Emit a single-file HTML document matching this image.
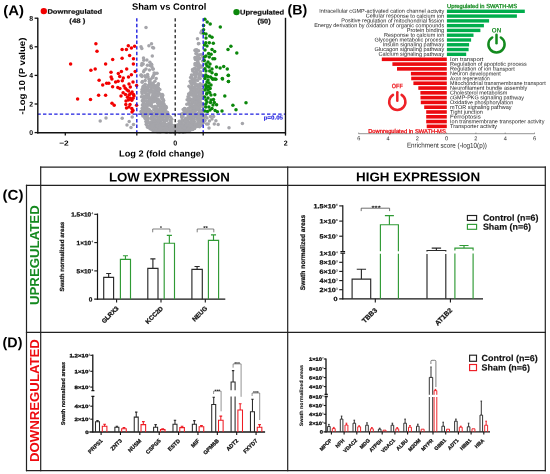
<!DOCTYPE html>
<html><head><meta charset="utf-8"><title>Figure</title>
<style>html,body{margin:0;padding:0;background:#fff;width:550px;height:474px;overflow:hidden}svg{display:block}text{font-family:"Liberation Sans", Arial, sans-serif;text-rendering:geometricPrecision}</style>
</head><body>
<svg width="550" height="474" viewBox="0 0 550 474">
<rect width="550" height="474" fill="#fff"/>
<text x="3.20" y="15.30" font-size="14.20" font-weight="bold" textLength="20.80" lengthAdjust="spacingAndGlyphs" transform="rotate(0.06 3.20 15.30)">(A)</text>
<g fill="#a5a5aa">
<circle cx="151.5" cy="43.8" r="1.75"/>
<circle cx="152.7" cy="47.5" r="1.75"/>
<circle cx="143.8" cy="60.2" r="1.75"/>
<circle cx="142.0" cy="63.6" r="1.75"/>
<circle cx="151.5" cy="64.3" r="1.75"/>
<circle cx="150.1" cy="65.6" r="1.75"/>
<circle cx="141.7" cy="65.2" r="1.75"/>
<circle cx="147.4" cy="65.3" r="1.75"/>
<circle cx="151.9" cy="66.7" r="1.75"/>
<circle cx="152.7" cy="69.0" r="1.75"/>
<circle cx="149.5" cy="70.0" r="1.75"/>
<circle cx="144.3" cy="70.2" r="1.75"/>
<circle cx="143.6" cy="71.7" r="1.75"/>
<circle cx="154.1" cy="73.0" r="1.75"/>
<circle cx="155.1" cy="73.5" r="1.75"/>
<circle cx="153.5" cy="75.6" r="1.75"/>
<circle cx="147.6" cy="74.5" r="1.75"/>
<circle cx="141.2" cy="75.4" r="1.75"/>
<circle cx="141.3" cy="75.3" r="1.75"/>
<circle cx="144.8" cy="75.8" r="1.75"/>
<circle cx="142.0" cy="76.4" r="1.75"/>
<circle cx="147.9" cy="76.4" r="1.75"/>
<circle cx="152.8" cy="77.1" r="1.75"/>
<circle cx="145.8" cy="77.3" r="1.75"/>
<circle cx="152.6" cy="77.5" r="1.75"/>
<circle cx="148.8" cy="78.9" r="1.75"/>
<circle cx="156.2" cy="78.6" r="1.75"/>
<circle cx="150.6" cy="79.2" r="1.75"/>
<circle cx="145.2" cy="80.5" r="1.75"/>
<circle cx="149.4" cy="81.3" r="1.75"/>
<circle cx="154.9" cy="81.2" r="1.75"/>
<circle cx="142.4" cy="81.6" r="1.75"/>
<circle cx="153.2" cy="83.0" r="1.75"/>
<circle cx="149.5" cy="83.0" r="1.75"/>
<circle cx="142.1" cy="82.2" r="1.75"/>
<circle cx="150.2" cy="82.2" r="1.75"/>
<circle cx="145.2" cy="84.2" r="1.75"/>
<circle cx="158.4" cy="83.8" r="1.75"/>
<circle cx="150.5" cy="85.0" r="1.75"/>
<circle cx="151.7" cy="84.4" r="1.75"/>
<circle cx="157.9" cy="85.0" r="1.75"/>
<circle cx="148.2" cy="85.4" r="1.75"/>
<circle cx="150.9" cy="85.0" r="1.75"/>
<circle cx="153.1" cy="84.5" r="1.75"/>
<circle cx="150.5" cy="84.9" r="1.75"/>
<circle cx="157.7" cy="85.5" r="1.75"/>
<circle cx="143.2" cy="86.2" r="1.75"/>
<circle cx="155.9" cy="86.7" r="1.75"/>
<circle cx="149.6" cy="86.0" r="1.75"/>
<circle cx="144.4" cy="86.4" r="1.75"/>
<circle cx="157.9" cy="85.8" r="1.75"/>
<circle cx="155.2" cy="85.7" r="1.75"/>
<circle cx="144.4" cy="85.9" r="1.75"/>
<circle cx="153.5" cy="86.0" r="1.75"/>
<circle cx="143.0" cy="87.8" r="1.75"/>
<circle cx="143.3" cy="87.5" r="1.75"/>
<circle cx="145.7" cy="87.1" r="1.75"/>
<circle cx="151.1" cy="87.4" r="1.75"/>
<circle cx="148.1" cy="87.4" r="1.75"/>
<circle cx="151.0" cy="87.1" r="1.75"/>
<circle cx="144.9" cy="87.7" r="1.75"/>
<circle cx="153.1" cy="87.5" r="1.75"/>
<circle cx="157.7" cy="88.4" r="1.75"/>
<circle cx="155.5" cy="89.1" r="1.75"/>
<circle cx="158.5" cy="88.5" r="1.75"/>
<circle cx="147.6" cy="89.3" r="1.75"/>
<circle cx="145.8" cy="89.3" r="1.75"/>
<circle cx="158.3" cy="88.3" r="1.75"/>
<circle cx="146.2" cy="89.0" r="1.75"/>
<circle cx="146.6" cy="88.3" r="1.75"/>
<circle cx="156.4" cy="89.6" r="1.75"/>
<circle cx="149.2" cy="90.2" r="1.75"/>
<circle cx="142.1" cy="89.6" r="1.75"/>
<circle cx="154.4" cy="90.5" r="1.75"/>
<circle cx="159.8" cy="89.5" r="1.75"/>
<circle cx="151.1" cy="90.3" r="1.75"/>
<circle cx="151.1" cy="90.2" r="1.75"/>
<circle cx="145.2" cy="89.5" r="1.75"/>
<circle cx="151.3" cy="91.3" r="1.75"/>
<circle cx="151.7" cy="90.8" r="1.75"/>
<circle cx="144.2" cy="90.9" r="1.75"/>
<circle cx="157.0" cy="91.8" r="1.75"/>
<circle cx="158.6" cy="90.8" r="1.75"/>
<circle cx="141.8" cy="91.8" r="1.75"/>
<circle cx="149.6" cy="91.6" r="1.75"/>
<circle cx="146.9" cy="91.2" r="1.75"/>
<circle cx="150.6" cy="91.2" r="1.75"/>
<circle cx="154.8" cy="92.9" r="1.75"/>
<circle cx="144.8" cy="92.4" r="1.75"/>
<circle cx="155.5" cy="92.4" r="1.75"/>
<circle cx="145.1" cy="92.1" r="1.75"/>
<circle cx="151.2" cy="91.9" r="1.75"/>
<circle cx="158.5" cy="92.9" r="1.75"/>
<circle cx="154.9" cy="92.9" r="1.75"/>
<circle cx="153.4" cy="92.4" r="1.75"/>
<circle cx="152.9" cy="92.5" r="1.75"/>
<circle cx="147.3" cy="94.2" r="1.75"/>
<circle cx="157.3" cy="94.1" r="1.75"/>
<circle cx="158.8" cy="93.6" r="1.75"/>
<circle cx="160.5" cy="94.2" r="1.75"/>
<circle cx="156.3" cy="94.1" r="1.75"/>
<circle cx="157.8" cy="93.6" r="1.75"/>
<circle cx="156.9" cy="93.2" r="1.75"/>
<circle cx="149.0" cy="93.7" r="1.75"/>
<circle cx="142.2" cy="93.6" r="1.75"/>
<circle cx="146.4" cy="95.5" r="1.75"/>
<circle cx="155.6" cy="94.8" r="1.75"/>
<circle cx="155.5" cy="95.1" r="1.75"/>
<circle cx="152.8" cy="94.9" r="1.75"/>
<circle cx="162.7" cy="95.2" r="1.75"/>
<circle cx="156.4" cy="95.3" r="1.75"/>
<circle cx="162.3" cy="94.4" r="1.75"/>
<circle cx="154.5" cy="95.3" r="1.75"/>
<circle cx="146.9" cy="94.9" r="1.75"/>
<circle cx="148.7" cy="95.8" r="1.75"/>
<circle cx="146.0" cy="96.7" r="1.75"/>
<circle cx="152.5" cy="96.3" r="1.75"/>
<circle cx="161.7" cy="96.3" r="1.75"/>
<circle cx="162.3" cy="96.4" r="1.75"/>
<circle cx="158.2" cy="95.7" r="1.75"/>
<circle cx="153.6" cy="96.6" r="1.75"/>
<circle cx="141.5" cy="96.8" r="1.75"/>
<circle cx="144.0" cy="96.2" r="1.75"/>
<circle cx="144.2" cy="96.2" r="1.75"/>
<circle cx="161.5" cy="97.4" r="1.75"/>
<circle cx="152.6" cy="97.6" r="1.75"/>
<circle cx="149.1" cy="97.2" r="1.75"/>
<circle cx="155.3" cy="97.6" r="1.75"/>
<circle cx="147.4" cy="97.8" r="1.75"/>
<circle cx="147.7" cy="96.9" r="1.75"/>
<circle cx="146.6" cy="97.0" r="1.75"/>
<circle cx="144.7" cy="97.8" r="1.75"/>
<circle cx="149.7" cy="98.0" r="1.75"/>
<circle cx="162.9" cy="99.3" r="1.75"/>
<circle cx="143.2" cy="99.2" r="1.75"/>
<circle cx="150.8" cy="98.7" r="1.75"/>
<circle cx="162.5" cy="98.4" r="1.75"/>
<circle cx="152.9" cy="99.3" r="1.75"/>
<circle cx="157.1" cy="98.7" r="1.75"/>
<circle cx="162.6" cy="99.1" r="1.75"/>
<circle cx="154.6" cy="98.3" r="1.75"/>
<circle cx="155.0" cy="98.7" r="1.75"/>
<circle cx="146.0" cy="98.2" r="1.75"/>
<circle cx="151.2" cy="100.2" r="1.75"/>
<circle cx="151.5" cy="99.7" r="1.75"/>
<circle cx="154.3" cy="99.9" r="1.75"/>
<circle cx="158.8" cy="100.0" r="1.75"/>
<circle cx="163.7" cy="100.5" r="1.75"/>
<circle cx="157.8" cy="99.7" r="1.75"/>
<circle cx="143.8" cy="100.5" r="1.75"/>
<circle cx="158.9" cy="100.1" r="1.75"/>
<circle cx="149.3" cy="99.7" r="1.75"/>
<circle cx="156.7" cy="100.1" r="1.75"/>
<circle cx="159.3" cy="100.9" r="1.75"/>
<circle cx="147.3" cy="101.8" r="1.75"/>
<circle cx="163.2" cy="101.7" r="1.75"/>
<circle cx="142.3" cy="100.7" r="1.75"/>
<circle cx="147.8" cy="101.2" r="1.75"/>
<circle cx="156.2" cy="100.8" r="1.75"/>
<circle cx="154.3" cy="100.7" r="1.75"/>
<circle cx="143.4" cy="101.5" r="1.75"/>
<circle cx="154.5" cy="101.4" r="1.75"/>
<circle cx="150.3" cy="101.2" r="1.75"/>
<circle cx="146.4" cy="101.1" r="1.75"/>
<circle cx="143.5" cy="102.0" r="1.75"/>
<circle cx="161.4" cy="102.6" r="1.75"/>
<circle cx="160.4" cy="102.2" r="1.75"/>
<circle cx="152.0" cy="102.2" r="1.75"/>
<circle cx="161.4" cy="102.3" r="1.75"/>
<circle cx="157.6" cy="103.1" r="1.75"/>
<circle cx="149.6" cy="102.6" r="1.75"/>
<circle cx="159.9" cy="103.0" r="1.75"/>
<circle cx="152.1" cy="102.3" r="1.75"/>
<circle cx="144.0" cy="103.0" r="1.75"/>
<circle cx="143.6" cy="102.0" r="1.75"/>
<circle cx="158.1" cy="103.5" r="1.75"/>
<circle cx="160.3" cy="103.2" r="1.75"/>
<circle cx="146.6" cy="103.9" r="1.75"/>
<circle cx="143.4" cy="103.5" r="1.75"/>
<circle cx="159.1" cy="104.0" r="1.75"/>
<circle cx="148.3" cy="103.3" r="1.75"/>
<circle cx="150.1" cy="104.0" r="1.75"/>
<circle cx="150.3" cy="103.3" r="1.75"/>
<circle cx="158.7" cy="103.8" r="1.75"/>
<circle cx="163.8" cy="104.3" r="1.75"/>
<circle cx="163.7" cy="103.7" r="1.75"/>
<circle cx="149.5" cy="104.9" r="1.75"/>
<circle cx="164.3" cy="105.5" r="1.75"/>
<circle cx="147.8" cy="104.8" r="1.75"/>
<circle cx="150.6" cy="104.8" r="1.75"/>
<circle cx="151.3" cy="104.9" r="1.75"/>
<circle cx="146.5" cy="105.1" r="1.75"/>
<circle cx="161.0" cy="105.0" r="1.75"/>
<circle cx="161.9" cy="105.1" r="1.75"/>
<circle cx="146.1" cy="105.3" r="1.75"/>
<circle cx="163.0" cy="104.7" r="1.75"/>
<circle cx="142.4" cy="105.0" r="1.75"/>
<circle cx="166.0" cy="106.4" r="1.75"/>
<circle cx="161.9" cy="105.7" r="1.75"/>
<circle cx="155.3" cy="106.6" r="1.75"/>
<circle cx="143.6" cy="105.7" r="1.75"/>
<circle cx="160.2" cy="106.7" r="1.75"/>
<circle cx="143.6" cy="106.4" r="1.75"/>
<circle cx="145.1" cy="106.5" r="1.75"/>
<circle cx="157.9" cy="105.9" r="1.75"/>
<circle cx="147.0" cy="106.6" r="1.75"/>
<circle cx="154.7" cy="106.6" r="1.75"/>
<circle cx="151.5" cy="106.1" r="1.75"/>
<circle cx="154.7" cy="107.5" r="1.75"/>
<circle cx="160.4" cy="107.7" r="1.75"/>
<circle cx="165.3" cy="107.4" r="1.75"/>
<circle cx="163.1" cy="107.7" r="1.75"/>
<circle cx="163.8" cy="107.9" r="1.75"/>
<circle cx="163.3" cy="108.0" r="1.75"/>
<circle cx="166.4" cy="107.7" r="1.75"/>
<circle cx="155.4" cy="107.8" r="1.75"/>
<circle cx="162.5" cy="107.4" r="1.75"/>
<circle cx="152.8" cy="107.1" r="1.75"/>
<circle cx="160.9" cy="108.1" r="1.75"/>
<circle cx="146.5" cy="108.7" r="1.75"/>
<circle cx="148.7" cy="109.3" r="1.75"/>
<circle cx="142.8" cy="108.5" r="1.75"/>
<circle cx="144.2" cy="108.9" r="1.75"/>
<circle cx="161.2" cy="108.4" r="1.75"/>
<circle cx="142.9" cy="108.7" r="1.75"/>
<circle cx="156.2" cy="109.2" r="1.75"/>
<circle cx="142.2" cy="108.3" r="1.75"/>
<circle cx="146.0" cy="108.4" r="1.75"/>
<circle cx="147.3" cy="109.0" r="1.75"/>
<circle cx="156.5" cy="108.4" r="1.75"/>
<circle cx="145.6" cy="110.3" r="1.75"/>
<circle cx="149.3" cy="110.1" r="1.75"/>
<circle cx="162.7" cy="110.0" r="1.75"/>
<circle cx="147.9" cy="110.5" r="1.75"/>
<circle cx="165.3" cy="109.8" r="1.75"/>
<circle cx="155.5" cy="110.5" r="1.75"/>
<circle cx="153.8" cy="109.7" r="1.75"/>
<circle cx="142.3" cy="110.5" r="1.75"/>
<circle cx="162.3" cy="109.9" r="1.75"/>
<circle cx="155.0" cy="110.0" r="1.75"/>
<circle cx="148.3" cy="110.6" r="1.75"/>
<circle cx="158.5" cy="109.7" r="1.75"/>
<circle cx="151.1" cy="111.6" r="1.75"/>
<circle cx="160.5" cy="111.4" r="1.75"/>
<circle cx="145.2" cy="110.8" r="1.75"/>
<circle cx="149.8" cy="111.0" r="1.75"/>
<circle cx="164.8" cy="111.3" r="1.75"/>
<circle cx="158.4" cy="111.8" r="1.75"/>
<circle cx="148.2" cy="111.3" r="1.75"/>
<circle cx="145.1" cy="111.6" r="1.75"/>
<circle cx="141.0" cy="111.6" r="1.75"/>
<circle cx="164.2" cy="111.6" r="1.75"/>
<circle cx="143.2" cy="111.0" r="1.75"/>
<circle cx="160.6" cy="110.8" r="1.75"/>
<circle cx="167.6" cy="112.6" r="1.75"/>
<circle cx="165.0" cy="112.3" r="1.75"/>
<circle cx="163.1" cy="112.4" r="1.75"/>
<circle cx="166.6" cy="112.0" r="1.75"/>
<circle cx="164.1" cy="112.2" r="1.75"/>
<circle cx="156.5" cy="112.5" r="1.75"/>
<circle cx="146.1" cy="112.9" r="1.75"/>
<circle cx="150.3" cy="112.3" r="1.75"/>
<circle cx="143.9" cy="112.3" r="1.75"/>
<circle cx="154.5" cy="112.8" r="1.75"/>
<circle cx="151.6" cy="112.7" r="1.75"/>
<circle cx="144.7" cy="112.4" r="1.75"/>
<circle cx="165.4" cy="113.9" r="1.75"/>
<circle cx="142.4" cy="113.6" r="1.75"/>
<circle cx="162.1" cy="113.4" r="1.75"/>
<circle cx="158.0" cy="113.7" r="1.75"/>
<circle cx="142.4" cy="114.3" r="1.75"/>
<circle cx="164.6" cy="113.4" r="1.75"/>
<circle cx="159.4" cy="113.5" r="1.75"/>
<circle cx="152.7" cy="113.8" r="1.75"/>
<circle cx="150.5" cy="113.6" r="1.75"/>
<circle cx="153.1" cy="114.0" r="1.75"/>
<circle cx="149.3" cy="113.4" r="1.75"/>
<circle cx="162.7" cy="113.5" r="1.75"/>
<circle cx="162.5" cy="114.8" r="1.75"/>
<circle cx="165.2" cy="114.5" r="1.75"/>
<circle cx="146.8" cy="114.5" r="1.75"/>
<circle cx="161.2" cy="115.2" r="1.75"/>
<circle cx="147.9" cy="114.9" r="1.75"/>
<circle cx="165.5" cy="115.1" r="1.75"/>
<circle cx="145.5" cy="114.7" r="1.75"/>
<circle cx="147.3" cy="114.5" r="1.75"/>
<circle cx="154.0" cy="114.5" r="1.75"/>
<circle cx="167.7" cy="114.9" r="1.75"/>
<circle cx="156.8" cy="115.2" r="1.75"/>
<circle cx="163.6" cy="115.4" r="1.75"/>
<circle cx="153.7" cy="115.7" r="1.75"/>
<circle cx="153.4" cy="116.5" r="1.75"/>
<circle cx="169.4" cy="116.6" r="1.75"/>
<circle cx="160.5" cy="116.4" r="1.75"/>
<circle cx="142.9" cy="116.0" r="1.75"/>
<circle cx="151.8" cy="116.4" r="1.75"/>
<circle cx="145.3" cy="116.1" r="1.75"/>
<circle cx="156.4" cy="116.6" r="1.75"/>
<circle cx="165.1" cy="116.4" r="1.75"/>
<circle cx="146.8" cy="116.6" r="1.75"/>
<circle cx="167.2" cy="116.3" r="1.75"/>
<circle cx="152.1" cy="116.3" r="1.75"/>
<circle cx="170.7" cy="117.5" r="1.75"/>
<circle cx="162.9" cy="117.9" r="1.75"/>
<circle cx="148.2" cy="118.0" r="1.75"/>
<circle cx="160.4" cy="117.1" r="1.75"/>
<circle cx="144.9" cy="117.2" r="1.75"/>
<circle cx="159.0" cy="117.7" r="1.75"/>
<circle cx="151.9" cy="118.0" r="1.75"/>
<circle cx="152.8" cy="117.5" r="1.75"/>
<circle cx="146.1" cy="118.1" r="1.75"/>
<circle cx="146.4" cy="118.0" r="1.75"/>
<circle cx="158.0" cy="117.6" r="1.75"/>
<circle cx="158.5" cy="117.2" r="1.75"/>
<circle cx="167.0" cy="118.9" r="1.75"/>
<circle cx="147.7" cy="119.1" r="1.75"/>
<circle cx="152.3" cy="119.2" r="1.75"/>
<circle cx="150.9" cy="118.8" r="1.75"/>
<circle cx="167.3" cy="118.4" r="1.75"/>
<circle cx="159.5" cy="118.2" r="1.75"/>
<circle cx="145.1" cy="118.4" r="1.75"/>
<circle cx="171.7" cy="119.3" r="1.75"/>
<circle cx="162.6" cy="118.5" r="1.75"/>
<circle cx="162.9" cy="119.0" r="1.75"/>
<circle cx="154.9" cy="118.9" r="1.75"/>
<circle cx="166.6" cy="118.2" r="1.75"/>
<circle cx="147.6" cy="119.9" r="1.75"/>
<circle cx="159.5" cy="119.6" r="1.75"/>
<circle cx="158.1" cy="119.7" r="1.75"/>
<circle cx="159.4" cy="119.8" r="1.75"/>
<circle cx="161.5" cy="119.4" r="1.75"/>
<circle cx="162.3" cy="119.6" r="1.75"/>
<circle cx="170.3" cy="120.1" r="1.75"/>
<circle cx="156.7" cy="119.9" r="1.75"/>
<circle cx="161.0" cy="120.2" r="1.75"/>
<circle cx="164.7" cy="120.3" r="1.75"/>
<circle cx="157.1" cy="120.6" r="1.75"/>
<circle cx="166.9" cy="120.4" r="1.75"/>
<circle cx="160.0" cy="121.7" r="1.75"/>
<circle cx="158.9" cy="121.3" r="1.75"/>
<circle cx="156.4" cy="121.7" r="1.75"/>
<circle cx="153.3" cy="120.7" r="1.75"/>
<circle cx="164.4" cy="121.7" r="1.75"/>
<circle cx="164.6" cy="121.4" r="1.75"/>
<circle cx="165.2" cy="121.0" r="1.75"/>
<circle cx="160.8" cy="120.7" r="1.75"/>
<circle cx="147.9" cy="121.2" r="1.75"/>
<circle cx="158.3" cy="121.1" r="1.75"/>
<circle cx="145.9" cy="121.5" r="1.75"/>
<circle cx="158.9" cy="120.9" r="1.75"/>
<circle cx="151.3" cy="122.0" r="1.75"/>
<circle cx="170.1" cy="123.1" r="1.75"/>
<circle cx="163.2" cy="122.9" r="1.75"/>
<circle cx="156.5" cy="122.9" r="1.75"/>
<circle cx="150.9" cy="122.8" r="1.75"/>
<circle cx="160.5" cy="123.0" r="1.75"/>
<circle cx="147.5" cy="122.9" r="1.75"/>
<circle cx="148.2" cy="122.5" r="1.75"/>
<circle cx="171.2" cy="121.9" r="1.75"/>
<circle cx="151.5" cy="122.3" r="1.75"/>
<circle cx="153.8" cy="122.0" r="1.75"/>
<circle cx="169.6" cy="122.9" r="1.75"/>
<circle cx="161.6" cy="123.2" r="1.75"/>
<circle cx="146.2" cy="124.2" r="1.75"/>
<circle cx="153.9" cy="123.7" r="1.75"/>
<circle cx="171.3" cy="124.3" r="1.75"/>
<circle cx="158.5" cy="123.4" r="1.75"/>
<circle cx="153.5" cy="124.3" r="1.75"/>
<circle cx="170.2" cy="123.4" r="1.75"/>
<circle cx="168.6" cy="123.6" r="1.75"/>
<circle cx="158.4" cy="123.4" r="1.75"/>
<circle cx="169.7" cy="124.3" r="1.75"/>
<circle cx="150.9" cy="123.9" r="1.75"/>
<circle cx="150.7" cy="124.2" r="1.75"/>
<circle cx="165.7" cy="124.8" r="1.75"/>
<circle cx="170.6" cy="125.4" r="1.75"/>
<circle cx="165.4" cy="124.6" r="1.75"/>
<circle cx="164.9" cy="125.5" r="1.75"/>
<circle cx="157.8" cy="124.5" r="1.75"/>
<circle cx="151.5" cy="124.8" r="1.75"/>
<circle cx="165.3" cy="124.6" r="1.75"/>
<circle cx="150.3" cy="124.7" r="1.75"/>
<circle cx="164.0" cy="125.3" r="1.75"/>
<circle cx="155.7" cy="125.2" r="1.75"/>
<circle cx="170.2" cy="125.1" r="1.75"/>
<circle cx="151.7" cy="124.8" r="1.75"/>
<circle cx="154.9" cy="126.4" r="1.75"/>
<circle cx="149.6" cy="126.8" r="1.75"/>
<circle cx="159.5" cy="126.3" r="1.75"/>
<circle cx="162.1" cy="125.7" r="1.75"/>
<circle cx="164.0" cy="126.0" r="1.75"/>
<circle cx="154.2" cy="126.6" r="1.75"/>
<circle cx="149.6" cy="126.0" r="1.75"/>
<circle cx="168.4" cy="125.9" r="1.75"/>
<circle cx="155.0" cy="126.3" r="1.75"/>
<circle cx="152.4" cy="126.7" r="1.75"/>
<circle cx="175.0" cy="125.7" r="1.75"/>
<circle cx="160.1" cy="126.6" r="1.75"/>
<circle cx="161.9" cy="127.1" r="1.75"/>
<circle cx="163.4" cy="127.7" r="1.75"/>
<circle cx="157.9" cy="127.7" r="1.75"/>
<circle cx="169.8" cy="127.5" r="1.75"/>
<circle cx="162.0" cy="127.9" r="1.75"/>
<circle cx="167.0" cy="127.5" r="1.75"/>
<circle cx="174.5" cy="127.1" r="1.75"/>
<circle cx="169.7" cy="127.1" r="1.75"/>
<circle cx="164.9" cy="127.2" r="1.75"/>
<circle cx="160.2" cy="127.8" r="1.75"/>
<circle cx="169.9" cy="127.8" r="1.75"/>
<circle cx="154.5" cy="127.5" r="1.75"/>
<circle cx="162.3" cy="128.2" r="1.75"/>
<circle cx="164.8" cy="129.0" r="1.75"/>
<circle cx="164.2" cy="129.2" r="1.75"/>
<circle cx="154.1" cy="128.3" r="1.75"/>
<circle cx="150.0" cy="128.7" r="1.75"/>
<circle cx="160.7" cy="128.7" r="1.75"/>
<circle cx="156.3" cy="129.1" r="1.75"/>
<circle cx="151.4" cy="129.2" r="1.75"/>
<circle cx="164.1" cy="128.8" r="1.75"/>
<circle cx="169.8" cy="128.4" r="1.75"/>
<circle cx="153.3" cy="128.5" r="1.75"/>
<circle cx="165.7" cy="130.0" r="1.75"/>
<circle cx="157.4" cy="130.1" r="1.75"/>
<circle cx="153.2" cy="130.4" r="1.75"/>
<circle cx="155.2" cy="129.7" r="1.75"/>
<circle cx="154.9" cy="130.2" r="1.75"/>
<circle cx="170.7" cy="130.3" r="1.75"/>
<circle cx="152.6" cy="129.9" r="1.75"/>
<circle cx="159.7" cy="129.7" r="1.75"/>
<circle cx="173.9" cy="129.5" r="1.75"/>
<circle cx="162.6" cy="130.3" r="1.75"/>
<circle cx="164.7" cy="131.5" r="1.75"/>
<circle cx="157.3" cy="130.9" r="1.75"/>
<circle cx="172.3" cy="130.8" r="1.75"/>
<circle cx="163.6" cy="131.0" r="1.75"/>
<circle cx="164.1" cy="130.7" r="1.75"/>
<circle cx="157.2" cy="131.8" r="1.75"/>
<circle cx="170.1" cy="131.5" r="1.75"/>
<circle cx="160.7" cy="131.0" r="1.75"/>
<circle cx="201.8" cy="32.7" r="1.75"/>
<circle cx="198.8" cy="43.5" r="1.75"/>
<circle cx="195.3" cy="49.9" r="1.75"/>
<circle cx="196.9" cy="51.2" r="1.75"/>
<circle cx="198.5" cy="50.8" r="1.75"/>
<circle cx="197.1" cy="54.2" r="1.75"/>
<circle cx="195.9" cy="53.5" r="1.75"/>
<circle cx="198.5" cy="55.4" r="1.75"/>
<circle cx="201.6" cy="54.8" r="1.75"/>
<circle cx="202.8" cy="56.7" r="1.75"/>
<circle cx="197.1" cy="57.3" r="1.75"/>
<circle cx="198.1" cy="57.2" r="1.75"/>
<circle cx="195.0" cy="57.4" r="1.75"/>
<circle cx="197.9" cy="57.1" r="1.75"/>
<circle cx="195.2" cy="58.8" r="1.75"/>
<circle cx="199.5" cy="58.8" r="1.75"/>
<circle cx="199.5" cy="58.2" r="1.75"/>
<circle cx="197.7" cy="60.1" r="1.75"/>
<circle cx="197.4" cy="59.8" r="1.75"/>
<circle cx="195.5" cy="59.4" r="1.75"/>
<circle cx="197.8" cy="61.4" r="1.75"/>
<circle cx="202.7" cy="61.1" r="1.75"/>
<circle cx="197.5" cy="62.2" r="1.75"/>
<circle cx="198.4" cy="63.5" r="1.75"/>
<circle cx="197.1" cy="64.3" r="1.75"/>
<circle cx="195.1" cy="63.4" r="1.75"/>
<circle cx="195.0" cy="65.0" r="1.75"/>
<circle cx="199.2" cy="65.1" r="1.75"/>
<circle cx="198.9" cy="65.1" r="1.75"/>
<circle cx="196.7" cy="66.1" r="1.75"/>
<circle cx="202.2" cy="66.0" r="1.75"/>
<circle cx="200.5" cy="66.5" r="1.75"/>
<circle cx="201.5" cy="67.1" r="1.75"/>
<circle cx="199.4" cy="67.5" r="1.75"/>
<circle cx="198.8" cy="67.3" r="1.75"/>
<circle cx="197.9" cy="68.4" r="1.75"/>
<circle cx="194.9" cy="68.5" r="1.75"/>
<circle cx="194.2" cy="68.8" r="1.75"/>
<circle cx="192.6" cy="69.5" r="1.75"/>
<circle cx="198.6" cy="69.5" r="1.75"/>
<circle cx="196.2" cy="70.3" r="1.75"/>
<circle cx="200.4" cy="71.7" r="1.75"/>
<circle cx="192.7" cy="71.0" r="1.75"/>
<circle cx="197.0" cy="71.6" r="1.75"/>
<circle cx="194.6" cy="72.8" r="1.75"/>
<circle cx="195.4" cy="72.3" r="1.75"/>
<circle cx="200.1" cy="72.9" r="1.75"/>
<circle cx="196.6" cy="74.0" r="1.75"/>
<circle cx="198.6" cy="74.1" r="1.75"/>
<circle cx="200.4" cy="73.3" r="1.75"/>
<circle cx="193.9" cy="74.6" r="1.75"/>
<circle cx="191.5" cy="75.1" r="1.75"/>
<circle cx="202.0" cy="75.6" r="1.75"/>
<circle cx="195.7" cy="76.4" r="1.75"/>
<circle cx="195.4" cy="76.8" r="1.75"/>
<circle cx="202.5" cy="75.7" r="1.75"/>
<circle cx="199.2" cy="75.8" r="1.75"/>
<circle cx="198.7" cy="78.1" r="1.75"/>
<circle cx="191.7" cy="77.3" r="1.75"/>
<circle cx="190.6" cy="77.6" r="1.75"/>
<circle cx="194.2" cy="79.1" r="1.75"/>
<circle cx="200.2" cy="78.5" r="1.75"/>
<circle cx="195.2" cy="78.9" r="1.75"/>
<circle cx="195.7" cy="80.2" r="1.75"/>
<circle cx="197.7" cy="80.4" r="1.75"/>
<circle cx="192.7" cy="79.6" r="1.75"/>
<circle cx="192.2" cy="80.5" r="1.75"/>
<circle cx="191.4" cy="81.0" r="1.75"/>
<circle cx="190.2" cy="81.3" r="1.75"/>
<circle cx="191.7" cy="81.4" r="1.75"/>
<circle cx="193.3" cy="80.9" r="1.75"/>
<circle cx="193.2" cy="82.0" r="1.75"/>
<circle cx="190.9" cy="83.0" r="1.75"/>
<circle cx="193.8" cy="82.0" r="1.75"/>
<circle cx="192.3" cy="82.5" r="1.75"/>
<circle cx="200.2" cy="83.7" r="1.75"/>
<circle cx="195.3" cy="84.1" r="1.75"/>
<circle cx="195.1" cy="83.2" r="1.75"/>
<circle cx="197.8" cy="84.7" r="1.75"/>
<circle cx="201.8" cy="85.4" r="1.75"/>
<circle cx="202.5" cy="84.9" r="1.75"/>
<circle cx="200.5" cy="85.3" r="1.75"/>
<circle cx="192.1" cy="84.4" r="1.75"/>
<circle cx="192.0" cy="84.5" r="1.75"/>
<circle cx="198.7" cy="86.0" r="1.75"/>
<circle cx="195.6" cy="85.7" r="1.75"/>
<circle cx="191.6" cy="86.8" r="1.75"/>
<circle cx="189.0" cy="86.3" r="1.75"/>
<circle cx="199.5" cy="86.6" r="1.75"/>
<circle cx="198.5" cy="86.1" r="1.75"/>
<circle cx="199.9" cy="88.1" r="1.75"/>
<circle cx="191.2" cy="88.0" r="1.75"/>
<circle cx="195.1" cy="87.7" r="1.75"/>
<circle cx="193.1" cy="88.0" r="1.75"/>
<circle cx="190.2" cy="87.6" r="1.75"/>
<circle cx="192.8" cy="87.4" r="1.75"/>
<circle cx="200.0" cy="88.6" r="1.75"/>
<circle cx="197.6" cy="88.6" r="1.75"/>
<circle cx="192.8" cy="89.2" r="1.75"/>
<circle cx="193.3" cy="88.3" r="1.75"/>
<circle cx="193.5" cy="89.0" r="1.75"/>
<circle cx="191.8" cy="89.0" r="1.75"/>
<circle cx="191.5" cy="89.5" r="1.75"/>
<circle cx="191.0" cy="89.8" r="1.75"/>
<circle cx="194.9" cy="89.4" r="1.75"/>
<circle cx="195.9" cy="89.9" r="1.75"/>
<circle cx="193.4" cy="90.0" r="1.75"/>
<circle cx="202.0" cy="89.6" r="1.75"/>
<circle cx="198.8" cy="90.8" r="1.75"/>
<circle cx="201.7" cy="91.2" r="1.75"/>
<circle cx="201.4" cy="90.9" r="1.75"/>
<circle cx="194.4" cy="91.5" r="1.75"/>
<circle cx="191.5" cy="91.0" r="1.75"/>
<circle cx="197.8" cy="91.8" r="1.75"/>
<circle cx="192.9" cy="93.1" r="1.75"/>
<circle cx="190.1" cy="92.7" r="1.75"/>
<circle cx="193.2" cy="92.7" r="1.75"/>
<circle cx="191.0" cy="92.6" r="1.75"/>
<circle cx="200.1" cy="92.9" r="1.75"/>
<circle cx="196.6" cy="92.5" r="1.75"/>
<circle cx="199.3" cy="94.0" r="1.75"/>
<circle cx="194.2" cy="93.9" r="1.75"/>
<circle cx="193.7" cy="93.6" r="1.75"/>
<circle cx="191.2" cy="93.9" r="1.75"/>
<circle cx="195.8" cy="93.8" r="1.75"/>
<circle cx="188.6" cy="93.9" r="1.75"/>
<circle cx="196.4" cy="95.5" r="1.75"/>
<circle cx="189.9" cy="95.0" r="1.75"/>
<circle cx="202.3" cy="95.3" r="1.75"/>
<circle cx="192.3" cy="95.3" r="1.75"/>
<circle cx="202.3" cy="94.9" r="1.75"/>
<circle cx="200.5" cy="94.6" r="1.75"/>
<circle cx="202.3" cy="95.0" r="1.75"/>
<circle cx="197.3" cy="96.8" r="1.75"/>
<circle cx="200.2" cy="96.6" r="1.75"/>
<circle cx="195.1" cy="96.8" r="1.75"/>
<circle cx="188.0" cy="96.7" r="1.75"/>
<circle cx="198.3" cy="96.0" r="1.75"/>
<circle cx="199.8" cy="96.2" r="1.75"/>
<circle cx="195.5" cy="96.7" r="1.75"/>
<circle cx="196.4" cy="97.0" r="1.75"/>
<circle cx="195.0" cy="97.8" r="1.75"/>
<circle cx="194.1" cy="97.2" r="1.75"/>
<circle cx="198.7" cy="97.9" r="1.75"/>
<circle cx="198.3" cy="97.6" r="1.75"/>
<circle cx="200.3" cy="97.9" r="1.75"/>
<circle cx="188.9" cy="97.3" r="1.75"/>
<circle cx="191.4" cy="99.2" r="1.75"/>
<circle cx="198.8" cy="98.3" r="1.75"/>
<circle cx="188.9" cy="98.6" r="1.75"/>
<circle cx="199.0" cy="98.9" r="1.75"/>
<circle cx="199.8" cy="98.2" r="1.75"/>
<circle cx="201.1" cy="98.4" r="1.75"/>
<circle cx="195.7" cy="99.2" r="1.75"/>
<circle cx="196.7" cy="99.9" r="1.75"/>
<circle cx="187.1" cy="99.8" r="1.75"/>
<circle cx="191.5" cy="100.2" r="1.75"/>
<circle cx="191.0" cy="100.1" r="1.75"/>
<circle cx="197.1" cy="99.6" r="1.75"/>
<circle cx="188.8" cy="100.2" r="1.75"/>
<circle cx="193.7" cy="99.6" r="1.75"/>
<circle cx="196.3" cy="101.1" r="1.75"/>
<circle cx="188.9" cy="101.8" r="1.75"/>
<circle cx="197.7" cy="101.5" r="1.75"/>
<circle cx="191.8" cy="101.0" r="1.75"/>
<circle cx="192.7" cy="100.8" r="1.75"/>
<circle cx="196.6" cy="101.2" r="1.75"/>
<circle cx="200.0" cy="101.1" r="1.75"/>
<circle cx="193.5" cy="101.3" r="1.75"/>
<circle cx="197.4" cy="102.2" r="1.75"/>
<circle cx="195.4" cy="102.2" r="1.75"/>
<circle cx="200.1" cy="102.2" r="1.75"/>
<circle cx="199.8" cy="102.7" r="1.75"/>
<circle cx="193.5" cy="103.0" r="1.75"/>
<circle cx="192.4" cy="102.8" r="1.75"/>
<circle cx="195.8" cy="102.4" r="1.75"/>
<circle cx="189.5" cy="103.7" r="1.75"/>
<circle cx="201.5" cy="103.5" r="1.75"/>
<circle cx="196.9" cy="104.0" r="1.75"/>
<circle cx="188.8" cy="103.6" r="1.75"/>
<circle cx="186.8" cy="104.2" r="1.75"/>
<circle cx="189.0" cy="103.7" r="1.75"/>
<circle cx="190.6" cy="104.1" r="1.75"/>
<circle cx="199.6" cy="103.9" r="1.75"/>
<circle cx="200.0" cy="104.5" r="1.75"/>
<circle cx="191.0" cy="104.8" r="1.75"/>
<circle cx="197.0" cy="105.2" r="1.75"/>
<circle cx="190.6" cy="105.5" r="1.75"/>
<circle cx="200.9" cy="104.4" r="1.75"/>
<circle cx="195.5" cy="105.0" r="1.75"/>
<circle cx="190.9" cy="105.0" r="1.75"/>
<circle cx="190.2" cy="105.2" r="1.75"/>
<circle cx="203.1" cy="106.8" r="1.75"/>
<circle cx="192.0" cy="106.6" r="1.75"/>
<circle cx="196.9" cy="106.5" r="1.75"/>
<circle cx="203.5" cy="105.7" r="1.75"/>
<circle cx="193.3" cy="106.1" r="1.75"/>
<circle cx="197.0" cy="105.9" r="1.75"/>
<circle cx="203.4" cy="105.9" r="1.75"/>
<circle cx="191.5" cy="105.8" r="1.75"/>
<circle cx="192.0" cy="106.5" r="1.75"/>
<circle cx="195.4" cy="107.6" r="1.75"/>
<circle cx="197.2" cy="107.2" r="1.75"/>
<circle cx="198.5" cy="107.8" r="1.75"/>
<circle cx="197.8" cy="107.0" r="1.75"/>
<circle cx="192.0" cy="106.9" r="1.75"/>
<circle cx="199.4" cy="108.0" r="1.75"/>
<circle cx="200.1" cy="106.9" r="1.75"/>
<circle cx="189.8" cy="107.5" r="1.75"/>
<circle cx="198.1" cy="108.5" r="1.75"/>
<circle cx="192.9" cy="108.3" r="1.75"/>
<circle cx="194.0" cy="108.3" r="1.75"/>
<circle cx="185.1" cy="108.8" r="1.75"/>
<circle cx="188.9" cy="109.1" r="1.75"/>
<circle cx="188.1" cy="108.6" r="1.75"/>
<circle cx="184.5" cy="108.4" r="1.75"/>
<circle cx="191.9" cy="108.8" r="1.75"/>
<circle cx="185.1" cy="110.4" r="1.75"/>
<circle cx="186.1" cy="110.6" r="1.75"/>
<circle cx="193.8" cy="109.9" r="1.75"/>
<circle cx="195.6" cy="110.4" r="1.75"/>
<circle cx="202.8" cy="109.9" r="1.75"/>
<circle cx="183.2" cy="109.6" r="1.75"/>
<circle cx="199.8" cy="110.3" r="1.75"/>
<circle cx="197.6" cy="109.6" r="1.75"/>
<circle cx="193.9" cy="109.4" r="1.75"/>
<circle cx="201.9" cy="111.4" r="1.75"/>
<circle cx="199.4" cy="110.7" r="1.75"/>
<circle cx="190.5" cy="110.7" r="1.75"/>
<circle cx="187.3" cy="110.8" r="1.75"/>
<circle cx="200.9" cy="111.0" r="1.75"/>
<circle cx="192.0" cy="111.4" r="1.75"/>
<circle cx="200.2" cy="111.8" r="1.75"/>
<circle cx="193.6" cy="111.3" r="1.75"/>
<circle cx="200.6" cy="111.1" r="1.75"/>
<circle cx="187.5" cy="112.3" r="1.75"/>
<circle cx="191.2" cy="112.5" r="1.75"/>
<circle cx="189.7" cy="112.4" r="1.75"/>
<circle cx="191.7" cy="112.0" r="1.75"/>
<circle cx="200.2" cy="112.0" r="1.75"/>
<circle cx="193.4" cy="112.6" r="1.75"/>
<circle cx="190.6" cy="112.2" r="1.75"/>
<circle cx="184.0" cy="112.3" r="1.75"/>
<circle cx="188.7" cy="112.5" r="1.75"/>
<circle cx="186.9" cy="112.8" r="1.75"/>
<circle cx="190.4" cy="114.3" r="1.75"/>
<circle cx="181.8" cy="113.9" r="1.75"/>
<circle cx="202.3" cy="113.6" r="1.75"/>
<circle cx="194.5" cy="113.6" r="1.75"/>
<circle cx="188.1" cy="113.9" r="1.75"/>
<circle cx="194.3" cy="113.5" r="1.75"/>
<circle cx="192.3" cy="113.8" r="1.75"/>
<circle cx="197.8" cy="113.2" r="1.75"/>
<circle cx="183.7" cy="113.5" r="1.75"/>
<circle cx="187.5" cy="114.1" r="1.75"/>
<circle cx="191.0" cy="114.7" r="1.75"/>
<circle cx="197.8" cy="114.5" r="1.75"/>
<circle cx="205.2" cy="115.4" r="1.75"/>
<circle cx="189.2" cy="114.8" r="1.75"/>
<circle cx="201.2" cy="115.3" r="1.75"/>
<circle cx="196.8" cy="114.5" r="1.75"/>
<circle cx="199.8" cy="114.5" r="1.75"/>
<circle cx="196.4" cy="115.1" r="1.75"/>
<circle cx="203.8" cy="115.2" r="1.75"/>
<circle cx="181.7" cy="115.5" r="1.75"/>
<circle cx="199.5" cy="115.1" r="1.75"/>
<circle cx="190.9" cy="116.5" r="1.75"/>
<circle cx="205.6" cy="116.8" r="1.75"/>
<circle cx="182.0" cy="116.6" r="1.75"/>
<circle cx="191.5" cy="116.6" r="1.75"/>
<circle cx="189.8" cy="116.2" r="1.75"/>
<circle cx="191.4" cy="115.8" r="1.75"/>
<circle cx="188.3" cy="116.5" r="1.75"/>
<circle cx="181.9" cy="115.8" r="1.75"/>
<circle cx="201.7" cy="116.4" r="1.75"/>
<circle cx="194.2" cy="115.8" r="1.75"/>
<circle cx="183.1" cy="116.0" r="1.75"/>
<circle cx="203.7" cy="117.2" r="1.75"/>
<circle cx="191.3" cy="117.5" r="1.75"/>
<circle cx="201.7" cy="117.0" r="1.75"/>
<circle cx="202.5" cy="117.5" r="1.75"/>
<circle cx="181.9" cy="117.4" r="1.75"/>
<circle cx="190.4" cy="117.7" r="1.75"/>
<circle cx="203.9" cy="117.5" r="1.75"/>
<circle cx="198.0" cy="117.4" r="1.75"/>
<circle cx="200.2" cy="117.0" r="1.75"/>
<circle cx="199.3" cy="117.1" r="1.75"/>
<circle cx="195.5" cy="117.1" r="1.75"/>
<circle cx="188.5" cy="118.9" r="1.75"/>
<circle cx="192.8" cy="118.6" r="1.75"/>
<circle cx="194.1" cy="119.2" r="1.75"/>
<circle cx="188.7" cy="118.9" r="1.75"/>
<circle cx="191.8" cy="119.3" r="1.75"/>
<circle cx="187.9" cy="119.0" r="1.75"/>
<circle cx="185.6" cy="118.5" r="1.75"/>
<circle cx="198.1" cy="118.8" r="1.75"/>
<circle cx="186.2" cy="118.2" r="1.75"/>
<circle cx="200.4" cy="118.6" r="1.75"/>
<circle cx="197.7" cy="118.7" r="1.75"/>
<circle cx="205.0" cy="120.5" r="1.75"/>
<circle cx="191.5" cy="120.0" r="1.75"/>
<circle cx="185.7" cy="120.3" r="1.75"/>
<circle cx="182.3" cy="119.8" r="1.75"/>
<circle cx="201.7" cy="119.4" r="1.75"/>
<circle cx="197.8" cy="120.1" r="1.75"/>
<circle cx="194.0" cy="119.8" r="1.75"/>
<circle cx="183.6" cy="120.5" r="1.75"/>
<circle cx="199.5" cy="120.4" r="1.75"/>
<circle cx="182.2" cy="120.3" r="1.75"/>
<circle cx="185.4" cy="119.6" r="1.75"/>
<circle cx="182.0" cy="121.6" r="1.75"/>
<circle cx="194.4" cy="121.7" r="1.75"/>
<circle cx="203.5" cy="121.5" r="1.75"/>
<circle cx="188.5" cy="121.8" r="1.75"/>
<circle cx="198.0" cy="121.0" r="1.75"/>
<circle cx="201.7" cy="121.5" r="1.75"/>
<circle cx="185.9" cy="120.9" r="1.75"/>
<circle cx="179.3" cy="121.3" r="1.75"/>
<circle cx="185.6" cy="121.0" r="1.75"/>
<circle cx="185.5" cy="120.8" r="1.75"/>
<circle cx="191.8" cy="121.0" r="1.75"/>
<circle cx="186.4" cy="121.0" r="1.75"/>
<circle cx="182.3" cy="122.9" r="1.75"/>
<circle cx="201.3" cy="122.6" r="1.75"/>
<circle cx="192.8" cy="122.8" r="1.75"/>
<circle cx="192.5" cy="122.7" r="1.75"/>
<circle cx="203.0" cy="122.8" r="1.75"/>
<circle cx="185.0" cy="122.0" r="1.75"/>
<circle cx="203.5" cy="122.3" r="1.75"/>
<circle cx="199.4" cy="122.2" r="1.75"/>
<circle cx="190.3" cy="122.3" r="1.75"/>
<circle cx="197.9" cy="123.0" r="1.75"/>
<circle cx="191.8" cy="122.6" r="1.75"/>
<circle cx="187.5" cy="122.2" r="1.75"/>
<circle cx="201.4" cy="123.9" r="1.75"/>
<circle cx="179.7" cy="124.2" r="1.75"/>
<circle cx="180.4" cy="123.8" r="1.75"/>
<circle cx="180.9" cy="124.3" r="1.75"/>
<circle cx="185.6" cy="124.2" r="1.75"/>
<circle cx="179.4" cy="123.9" r="1.75"/>
<circle cx="179.6" cy="123.2" r="1.75"/>
<circle cx="192.2" cy="124.3" r="1.75"/>
<circle cx="195.0" cy="124.2" r="1.75"/>
<circle cx="197.5" cy="123.8" r="1.75"/>
<circle cx="179.8" cy="123.8" r="1.75"/>
<circle cx="184.9" cy="125.0" r="1.75"/>
<circle cx="180.7" cy="125.2" r="1.75"/>
<circle cx="186.5" cy="125.0" r="1.75"/>
<circle cx="177.6" cy="125.0" r="1.75"/>
<circle cx="190.2" cy="125.6" r="1.75"/>
<circle cx="190.4" cy="124.6" r="1.75"/>
<circle cx="183.4" cy="124.8" r="1.75"/>
<circle cx="194.1" cy="125.5" r="1.75"/>
<circle cx="201.3" cy="125.5" r="1.75"/>
<circle cx="200.0" cy="125.4" r="1.75"/>
<circle cx="200.2" cy="124.4" r="1.75"/>
<circle cx="188.5" cy="125.1" r="1.75"/>
<circle cx="190.5" cy="126.8" r="1.75"/>
<circle cx="177.4" cy="126.3" r="1.75"/>
<circle cx="199.1" cy="125.7" r="1.75"/>
<circle cx="178.1" cy="126.7" r="1.75"/>
<circle cx="199.1" cy="125.7" r="1.75"/>
<circle cx="176.1" cy="126.6" r="1.75"/>
<circle cx="192.4" cy="126.3" r="1.75"/>
<circle cx="189.7" cy="126.6" r="1.75"/>
<circle cx="195.4" cy="125.7" r="1.75"/>
<circle cx="177.0" cy="126.6" r="1.75"/>
<circle cx="199.5" cy="126.7" r="1.75"/>
<circle cx="182.6" cy="126.9" r="1.75"/>
<circle cx="192.1" cy="127.2" r="1.75"/>
<circle cx="188.0" cy="127.5" r="1.75"/>
<circle cx="182.4" cy="127.7" r="1.75"/>
<circle cx="185.0" cy="127.2" r="1.75"/>
<circle cx="194.6" cy="127.1" r="1.75"/>
<circle cx="178.2" cy="127.2" r="1.75"/>
<circle cx="185.6" cy="127.8" r="1.75"/>
<circle cx="182.3" cy="127.2" r="1.75"/>
<circle cx="189.5" cy="127.2" r="1.75"/>
<circle cx="192.3" cy="128.4" r="1.75"/>
<circle cx="179.6" cy="128.5" r="1.75"/>
<circle cx="181.5" cy="129.0" r="1.75"/>
<circle cx="188.3" cy="129.1" r="1.75"/>
<circle cx="185.6" cy="128.2" r="1.75"/>
<circle cx="190.0" cy="128.4" r="1.75"/>
<circle cx="179.3" cy="128.6" r="1.75"/>
<circle cx="194.5" cy="128.6" r="1.75"/>
<circle cx="182.0" cy="129.2" r="1.75"/>
<circle cx="178.1" cy="130.3" r="1.75"/>
<circle cx="188.9" cy="129.8" r="1.75"/>
<circle cx="189.0" cy="129.9" r="1.75"/>
<circle cx="180.6" cy="130.1" r="1.75"/>
<circle cx="188.2" cy="130.0" r="1.75"/>
<circle cx="189.5" cy="129.4" r="1.75"/>
<circle cx="184.1" cy="129.9" r="1.75"/>
<circle cx="176.9" cy="130.5" r="1.75"/>
<circle cx="185.4" cy="131.8" r="1.75"/>
<circle cx="186.1" cy="131.1" r="1.75"/>
<circle cx="186.1" cy="130.8" r="1.75"/>
<circle cx="183.4" cy="131.8" r="1.75"/>
<circle cx="176.8" cy="130.8" r="1.75"/>
<circle cx="182.9" cy="131.7" r="1.75"/>
<circle cx="190.5" cy="130.1" r="1.75"/>
<circle cx="166.6" cy="127.8" r="1.75"/>
<circle cx="161.2" cy="125.0" r="1.75"/>
<circle cx="160.2" cy="131.9" r="1.75"/>
<circle cx="165.2" cy="125.6" r="1.75"/>
<circle cx="163.3" cy="124.4" r="1.75"/>
<circle cx="152.9" cy="125.5" r="1.75"/>
<circle cx="174.5" cy="128.4" r="1.75"/>
<circle cx="184.4" cy="128.8" r="1.75"/>
<circle cx="193.3" cy="128.4" r="1.75"/>
<circle cx="158.5" cy="124.7" r="1.75"/>
<circle cx="163.4" cy="124.6" r="1.75"/>
<circle cx="189.0" cy="130.4" r="1.75"/>
<circle cx="156.7" cy="128.2" r="1.75"/>
<circle cx="176.5" cy="126.8" r="1.75"/>
<circle cx="188.6" cy="126.5" r="1.75"/>
<circle cx="170.2" cy="132.2" r="1.75"/>
<circle cx="187.8" cy="129.1" r="1.75"/>
<circle cx="157.8" cy="127.9" r="1.75"/>
<circle cx="183.4" cy="131.9" r="1.75"/>
<circle cx="189.5" cy="124.2" r="1.75"/>
<circle cx="150.4" cy="127.4" r="1.75"/>
<circle cx="155.6" cy="125.4" r="1.75"/>
<circle cx="160.7" cy="130.2" r="1.75"/>
<circle cx="158.3" cy="124.2" r="1.75"/>
<circle cx="172.0" cy="130.7" r="1.75"/>
<circle cx="170.9" cy="129.5" r="1.75"/>
<circle cx="147.0" cy="125.5" r="1.75"/>
<circle cx="148.8" cy="126.6" r="1.75"/>
<circle cx="179.6" cy="126.2" r="1.75"/>
<circle cx="171.5" cy="127.1" r="1.75"/>
<circle cx="164.5" cy="129.2" r="1.75"/>
<circle cx="192.6" cy="127.0" r="1.75"/>
<circle cx="168.8" cy="128.9" r="1.75"/>
<circle cx="170.8" cy="128.5" r="1.75"/>
<circle cx="194.5" cy="126.8" r="1.75"/>
<circle cx="196.9" cy="126.0" r="1.75"/>
<circle cx="184.1" cy="131.2" r="1.75"/>
<circle cx="174.2" cy="125.4" r="1.75"/>
<circle cx="166.3" cy="132.3" r="1.75"/>
<circle cx="186.0" cy="125.4" r="1.75"/>
<circle cx="177.8" cy="126.0" r="1.75"/>
<circle cx="198.5" cy="125.3" r="1.75"/>
<circle cx="151.6" cy="126.4" r="1.75"/>
<circle cx="166.0" cy="129.8" r="1.75"/>
<circle cx="172.5" cy="128.7" r="1.75"/>
<circle cx="171.7" cy="131.7" r="1.75"/>
<circle cx="147.6" cy="127.2" r="1.75"/>
<circle cx="161.8" cy="128.2" r="1.75"/>
<circle cx="178.5" cy="128.8" r="1.75"/>
<circle cx="153.0" cy="127.9" r="1.75"/>
<circle cx="171.8" cy="128.2" r="1.75"/>
<circle cx="192.7" cy="129.4" r="1.75"/>
<circle cx="170.0" cy="126.4" r="1.75"/>
<circle cx="191.1" cy="124.7" r="1.75"/>
<circle cx="191.1" cy="126.0" r="1.75"/>
<circle cx="163.0" cy="130.7" r="1.75"/>
<circle cx="171.6" cy="131.6" r="1.75"/>
<circle cx="175.5" cy="127.6" r="1.75"/>
<circle cx="171.0" cy="131.9" r="1.75"/>
<circle cx="162.7" cy="128.1" r="1.75"/>
<circle cx="171.9" cy="131.1" r="1.75"/>
<circle cx="157.2" cy="126.9" r="1.75"/>
<circle cx="191.6" cy="125.8" r="1.75"/>
<circle cx="189.4" cy="130.7" r="1.75"/>
<circle cx="176.5" cy="131.7" r="1.75"/>
<circle cx="179.8" cy="130.7" r="1.75"/>
<circle cx="182.8" cy="130.8" r="1.75"/>
<circle cx="190.9" cy="125.5" r="1.75"/>
<circle cx="159.5" cy="126.5" r="1.75"/>
<circle cx="158.4" cy="131.7" r="1.75"/>
<circle cx="165.3" cy="128.3" r="1.75"/>
<circle cx="176.2" cy="130.7" r="1.75"/>
<circle cx="183.5" cy="131.7" r="1.75"/>
<circle cx="153.7" cy="129.4" r="1.75"/>
<circle cx="155.9" cy="129.6" r="1.75"/>
<circle cx="179.4" cy="132.3" r="1.75"/>
<circle cx="156.5" cy="126.6" r="1.75"/>
<circle cx="183.1" cy="129.8" r="1.75"/>
<circle cx="173.7" cy="132.3" r="1.75"/>
<circle cx="186.6" cy="125.1" r="1.75"/>
<circle cx="195.2" cy="124.5" r="1.75"/>
<circle cx="183.3" cy="130.5" r="1.75"/>
<circle cx="173.8" cy="131.3" r="1.75"/>
<circle cx="174.8" cy="131.9" r="1.75"/>
<circle cx="167.2" cy="128.1" r="1.75"/>
<circle cx="148.4" cy="127.0" r="1.75"/>
<circle cx="190.0" cy="125.4" r="1.75"/>
<circle cx="181.7" cy="125.9" r="1.75"/>
<circle cx="179.7" cy="130.5" r="1.75"/>
<circle cx="164.1" cy="128.3" r="1.75"/>
<circle cx="156.4" cy="126.3" r="1.75"/>
<circle cx="180.4" cy="129.4" r="1.75"/>
<circle cx="166.9" cy="131.9" r="1.75"/>
<circle cx="182.3" cy="131.8" r="1.75"/>
<circle cx="197.0" cy="126.4" r="1.75"/>
<circle cx="192.7" cy="129.2" r="1.75"/>
<circle cx="165.8" cy="130.5" r="1.75"/>
<circle cx="174.3" cy="126.3" r="1.75"/>
<circle cx="150.6" cy="128.1" r="1.75"/>
<circle cx="172.8" cy="131.2" r="1.75"/>
<circle cx="184.4" cy="128.0" r="1.75"/>
<circle cx="157.1" cy="126.1" r="1.75"/>
<circle cx="161.0" cy="128.9" r="1.75"/>
<circle cx="150.5" cy="126.8" r="1.75"/>
<circle cx="166.0" cy="124.4" r="1.75"/>
<circle cx="193.4" cy="128.4" r="1.75"/>
<circle cx="168.8" cy="129.4" r="1.75"/>
<circle cx="159.6" cy="127.4" r="1.75"/>
<circle cx="194.7" cy="128.0" r="1.75"/>
<circle cx="146.0" cy="27.4" r="1.75"/>
<circle cx="141.0" cy="46.8" r="1.75"/>
<circle cx="141.8" cy="48.5" r="1.75"/>
<circle cx="148.9" cy="45.8" r="1.75"/>
<circle cx="153.6" cy="48.0" r="1.75"/>
<circle cx="143.5" cy="58.1" r="1.75"/>
<circle cx="146.9" cy="60.1" r="1.75"/>
<circle cx="152.3" cy="56.1" r="1.75"/>
<circle cx="143.2" cy="64.0" r="1.75"/>
<circle cx="149.9" cy="62.3" r="1.75"/>
<circle cx="151.6" cy="64.9" r="1.75"/>
<circle cx="153.3" cy="69.1" r="1.75"/>
<circle cx="146.0" cy="69.1" r="1.75"/>
<circle cx="157.0" cy="73.3" r="1.75"/>
<circle cx="141.0" cy="75.0" r="1.75"/>
<circle cx="197.5" cy="38.7" r="1.75"/>
<circle cx="198.4" cy="43.8" r="1.75"/>
<circle cx="196.7" cy="49.7" r="1.75"/>
<circle cx="195.0" cy="50.5" r="1.75"/>
<circle cx="200.0" cy="54.7" r="1.75"/>
<circle cx="200.9" cy="32.8" r="1.75"/>
<circle cx="201.7" cy="31.1" r="1.75"/>
<circle cx="100.2" cy="121.1" r="1.75"/>
<circle cx="106.0" cy="117.9" r="1.75"/>
<circle cx="122.2" cy="118.2" r="1.75"/>
<circle cx="129.2" cy="121.6" r="1.75"/>
<circle cx="132.2" cy="116.9" r="1.75"/>
<circle cx="133.5" cy="124.5" r="1.75"/>
<circle cx="131.0" cy="127.5" r="1.75"/>
<circle cx="127.0" cy="125.0" r="1.75"/>
<circle cx="206.6" cy="124.1" r="1.75"/>
<circle cx="208.2" cy="124.1" r="1.75"/>
<circle cx="214.3" cy="124.1" r="1.75"/>
<circle cx="218.2" cy="124.4" r="1.75"/>
<circle cx="215.9" cy="120.7" r="1.75"/>
<circle cx="229.0" cy="127.7" r="1.75"/>
<circle cx="242.4" cy="123.6" r="1.75"/>
<circle cx="210.5" cy="116.4" r="1.75"/>
<circle cx="213.6" cy="116.4" r="1.75"/>
<circle cx="209.0" cy="128.0" r="1.75"/>
<circle cx="212.0" cy="119.0" r="1.75"/>
<circle cx="207.0" cy="118.0" r="1.75"/>
<circle cx="209.5" cy="121.0" r="1.75"/>
</g>
<g fill="#f20000">
<circle cx="95.9" cy="43.8" r="1.75"/>
<circle cx="97.0" cy="51.2" r="1.75"/>
<circle cx="70.6" cy="64.1" r="1.75"/>
<circle cx="90.9" cy="70.2" r="1.75"/>
<circle cx="95.2" cy="68.9" r="1.75"/>
<circle cx="105.6" cy="64.1" r="1.75"/>
<circle cx="112.7" cy="59.4" r="1.75"/>
<circle cx="122.1" cy="49.4" r="1.75"/>
<circle cx="126.4" cy="49.4" r="1.75"/>
<circle cx="128.3" cy="45.8" r="1.75"/>
<circle cx="131.4" cy="47.9" r="1.75"/>
<circle cx="134.6" cy="46.3" r="1.75"/>
<circle cx="122.1" cy="58.3" r="1.75"/>
<circle cx="129.6" cy="55.5" r="1.75"/>
<circle cx="133.5" cy="58.7" r="1.75"/>
<circle cx="133.4" cy="64.1" r="1.75"/>
<circle cx="126.7" cy="68.9" r="1.75"/>
<circle cx="135.2" cy="71.4" r="1.75"/>
<circle cx="111.0" cy="72.3" r="1.75"/>
<circle cx="118.3" cy="73.6" r="1.75"/>
<circle cx="121.4" cy="71.4" r="1.75"/>
<circle cx="111.1" cy="77.0" r="1.75"/>
<circle cx="111.9" cy="79.0" r="1.75"/>
<circle cx="119.7" cy="76.6" r="1.75"/>
<circle cx="123.3" cy="78.1" r="1.75"/>
<circle cx="128.5" cy="77.0" r="1.75"/>
<circle cx="131.4" cy="74.8" r="1.75"/>
<circle cx="122.3" cy="80.8" r="1.75"/>
<circle cx="99.1" cy="80.2" r="1.75"/>
<circle cx="106.6" cy="83.3" r="1.75"/>
<circle cx="108.8" cy="83.3" r="1.75"/>
<circle cx="102.7" cy="85.1" r="1.75"/>
<circle cx="115.6" cy="82.0" r="1.75"/>
<circle cx="118.1" cy="81.3" r="1.75"/>
<circle cx="112.6" cy="86.7" r="1.75"/>
<circle cx="117.8" cy="87.4" r="1.75"/>
<circle cx="119.9" cy="88.5" r="1.75"/>
<circle cx="125.3" cy="88.3" r="1.75"/>
<circle cx="130.3" cy="87.0" r="1.75"/>
<circle cx="136.6" cy="85.6" r="1.75"/>
<circle cx="98.6" cy="95.3" r="1.75"/>
<circle cx="105.6" cy="95.3" r="1.75"/>
<circle cx="77.6" cy="98.9" r="1.75"/>
<circle cx="90.5" cy="99.6" r="1.75"/>
<circle cx="112.0" cy="103.2" r="1.75"/>
<circle cx="114.2" cy="105.3" r="1.75"/>
<circle cx="123.1" cy="92.8" r="1.75"/>
<circle cx="125.5" cy="94.6" r="1.75"/>
<circle cx="128.5" cy="91.0" r="1.75"/>
<circle cx="130.3" cy="93.7" r="1.75"/>
<circle cx="132.1" cy="91.9" r="1.75"/>
<circle cx="133.5" cy="94.6" r="1.75"/>
<circle cx="127.5" cy="97.3" r="1.75"/>
<circle cx="130.3" cy="98.2" r="1.75"/>
<circle cx="133.0" cy="98.2" r="1.75"/>
<circle cx="128.5" cy="99.9" r="1.75"/>
<circle cx="131.8" cy="100.3" r="1.75"/>
<circle cx="125.8" cy="104.4" r="1.75"/>
<circle cx="130.0" cy="104.4" r="1.75"/>
<circle cx="131.8" cy="108.5" r="1.75"/>
<circle cx="136.6" cy="105.3" r="1.75"/>
<circle cx="132.0" cy="112.0" r="1.75"/>
<circle cx="126.0" cy="101.0" r="1.75"/>
<circle cx="129.0" cy="95.0" r="1.75"/>
<circle cx="134.0" cy="96.0" r="1.75"/>
<circle cx="127.0" cy="90.0" r="1.75"/>
<circle cx="124.0" cy="86.0" r="1.75"/>
<circle cx="133.0" cy="82.0" r="1.75"/>
<circle cx="129.0" cy="84.0" r="1.75"/>
<circle cx="121.0" cy="96.0" r="1.75"/>
<circle cx="129.0" cy="107.0" r="1.75"/>
<circle cx="133.0" cy="110.5" r="1.75"/>
<circle cx="126.5" cy="108.0" r="1.75"/>
</g>
<g fill="#0b870b">
<circle cx="204.9" cy="19.3" r="1.75"/>
<circle cx="207.2" cy="22.0" r="1.75"/>
<circle cx="210.2" cy="24.0" r="1.75"/>
<circle cx="203.6" cy="25.6" r="1.75"/>
<circle cx="220.3" cy="26.9" r="1.75"/>
<circle cx="203.6" cy="29.7" r="1.75"/>
<circle cx="203.6" cy="33.3" r="1.75"/>
<circle cx="209.7" cy="36.0" r="1.75"/>
<circle cx="212.0" cy="37.3" r="1.75"/>
<circle cx="205.8" cy="42.7" r="1.75"/>
<circle cx="209.3" cy="42.7" r="1.75"/>
<circle cx="213.3" cy="43.2" r="1.75"/>
<circle cx="230.9" cy="46.2" r="1.75"/>
<circle cx="228.0" cy="49.5" r="1.75"/>
<circle cx="236.8" cy="52.9" r="1.75"/>
<circle cx="212.0" cy="49.5" r="1.75"/>
<circle cx="214.7" cy="51.6" r="1.75"/>
<circle cx="208.6" cy="53.4" r="1.75"/>
<circle cx="211.1" cy="54.3" r="1.75"/>
<circle cx="209.3" cy="57.0" r="1.75"/>
<circle cx="212.9" cy="58.8" r="1.75"/>
<circle cx="214.7" cy="58.8" r="1.75"/>
<circle cx="204.3" cy="60.6" r="1.75"/>
<circle cx="216.5" cy="66.9" r="1.75"/>
<circle cx="220.1" cy="68.1" r="1.75"/>
<circle cx="223.7" cy="66.5" r="1.75"/>
<circle cx="227.3" cy="69.0" r="1.75"/>
<circle cx="204.9" cy="68.7" r="1.75"/>
<circle cx="209.7" cy="71.0" r="1.75"/>
<circle cx="212.0" cy="72.8" r="1.75"/>
<circle cx="205.8" cy="74.9" r="1.75"/>
<circle cx="207.9" cy="76.4" r="1.75"/>
<circle cx="216.2" cy="74.6" r="1.75"/>
<circle cx="228.4" cy="75.3" r="1.75"/>
<circle cx="212.2" cy="78.5" r="1.75"/>
<circle cx="214.7" cy="78.9" r="1.75"/>
<circle cx="222.3" cy="78.5" r="1.75"/>
<circle cx="228.4" cy="81.4" r="1.75"/>
<circle cx="204.9" cy="78.5" r="1.75"/>
<circle cx="205.8" cy="85.7" r="1.75"/>
<circle cx="208.5" cy="86.6" r="1.75"/>
<circle cx="210.2" cy="88.4" r="1.75"/>
<circle cx="205.8" cy="76.2" r="1.75"/>
<circle cx="210.5" cy="77.0" r="1.75"/>
<circle cx="212.8" cy="79.3" r="1.75"/>
<circle cx="215.9" cy="79.3" r="1.75"/>
<circle cx="215.9" cy="74.6" r="1.75"/>
<circle cx="222.5" cy="79.0" r="1.75"/>
<circle cx="228.2" cy="75.4" r="1.75"/>
<circle cx="228.5" cy="81.4" r="1.75"/>
<circle cx="205.8" cy="84.7" r="1.75"/>
<circle cx="207.4" cy="87.0" r="1.75"/>
<circle cx="205.0" cy="90.1" r="1.75"/>
<circle cx="208.1" cy="90.1" r="1.75"/>
<circle cx="209.7" cy="92.4" r="1.75"/>
<circle cx="206.6" cy="94.0" r="1.75"/>
<circle cx="214.8" cy="94.7" r="1.75"/>
<circle cx="224.8" cy="96.0" r="1.75"/>
<circle cx="204.6" cy="97.0" r="1.75"/>
<circle cx="213.5" cy="99.4" r="1.75"/>
<circle cx="214.3" cy="102.5" r="1.75"/>
<circle cx="210.5" cy="102.5" r="1.75"/>
<circle cx="205.8" cy="104.0" r="1.75"/>
<circle cx="208.9" cy="107.1" r="1.75"/>
<circle cx="205.8" cy="107.1" r="1.75"/>
<circle cx="216.6" cy="104.8" r="1.75"/>
<circle cx="212.0" cy="108.6" r="1.75"/>
<circle cx="215.1" cy="110.5" r="1.75"/>
<circle cx="217.4" cy="111.7" r="1.75"/>
<circle cx="222.0" cy="111.0" r="1.75"/>
<circle cx="232.9" cy="105.2" r="1.75"/>
<circle cx="236.0" cy="109.7" r="1.75"/>
<circle cx="246.0" cy="102.8" r="1.75"/>
<circle cx="205.0" cy="111.0" r="1.75"/>
<circle cx="206.0" cy="100.0" r="1.75"/>
<circle cx="207.0" cy="82.0" r="1.75"/>
<circle cx="206.0" cy="64.0" r="1.75"/>
<circle cx="205.0" cy="50.0" r="1.75"/>
<circle cx="206.0" cy="38.0" r="1.75"/>
<circle cx="207.0" cy="66.0" r="1.75"/>
<circle cx="208.0" cy="62.0" r="1.75"/>
<circle cx="210.0" cy="64.0" r="1.75"/>
<circle cx="206.0" cy="71.0" r="1.75"/>
<circle cx="208.0" cy="80.0" r="1.75"/>
<circle cx="209.0" cy="83.0" r="1.75"/>
<circle cx="211.0" cy="85.0" r="1.75"/>
<circle cx="207.0" cy="93.0" r="1.75"/>
<circle cx="211.0" cy="95.0" r="1.75"/>
<circle cx="208.0" cy="98.0" r="1.75"/>
<circle cx="211.0" cy="100.0" r="1.75"/>
<circle cx="207.0" cy="102.0" r="1.75"/>
<circle cx="213.0" cy="105.0" r="1.75"/>
<circle cx="210.0" cy="110.0" r="1.75"/>
<circle cx="207.5" cy="111.5" r="1.75"/>
<circle cx="206.0" cy="88.0" r="1.75"/>
<circle cx="204.5" cy="57.0" r="1.75"/>
<circle cx="207.0" cy="46.0" r="1.75"/>
<circle cx="204.5" cy="45.0" r="1.75"/>
<circle cx="206.0" cy="34.0" r="1.75"/>
<circle cx="206.0" cy="56.0" r="1.75"/>
<circle cx="209.0" cy="67.0" r="1.75"/>
<circle cx="212.0" cy="69.0" r="1.75"/>
</g>
<line x1="136.80" y1="18.20" x2="136.80" y2="132.80" stroke="#1e1ee0" stroke-width="1.4" stroke-dasharray="3.4 2.2"/>
<line x1="203.20" y1="18.20" x2="203.20" y2="132.80" stroke="#1e1ee0" stroke-width="1.4" stroke-dasharray="3.4 2.2"/>
<line x1="37.70" y1="114.10" x2="285.50" y2="114.10" stroke="#1e1ee0" stroke-width="1.4" stroke-dasharray="3.4 2.2" stroke-dashoffset="0.3"/>
<line x1="175.20" y1="18.20" x2="175.20" y2="132.80" stroke="#111" stroke-width="1.2" stroke-dasharray="3.2 2.4"/>
<line x1="37.80" y1="17.80" x2="37.80" y2="133.40" stroke="#111" stroke-width="1.4"/>
<line x1="37.20" y1="132.80" x2="285.50" y2="132.80" stroke="#111" stroke-width="1.4"/>
<line x1="285.50" y1="17.80" x2="285.50" y2="133.40" stroke="#111" stroke-width="1.4"/>
<line x1="34.60" y1="132.60" x2="37.80" y2="132.60" stroke="#111" stroke-width="1.3"/>
<text x="33.20" y="135.05" font-size="6.90" font-weight="bold" text-anchor="end" transform="rotate(0.06 33.20 135.05)">0</text>
<line x1="34.60" y1="104.00" x2="37.80" y2="104.00" stroke="#111" stroke-width="1.3"/>
<text x="33.20" y="106.45" font-size="6.90" font-weight="bold" text-anchor="end" transform="rotate(0.06 33.20 106.45)">2</text>
<line x1="34.60" y1="75.40" x2="37.80" y2="75.40" stroke="#111" stroke-width="1.3"/>
<text x="33.20" y="77.85" font-size="6.90" font-weight="bold" text-anchor="end" transform="rotate(0.06 33.20 77.85)">4</text>
<line x1="34.60" y1="46.80" x2="37.80" y2="46.80" stroke="#111" stroke-width="1.3"/>
<text x="33.20" y="49.25" font-size="6.90" font-weight="bold" text-anchor="end" transform="rotate(0.06 33.20 49.25)">6</text>
<line x1="34.60" y1="18.20" x2="37.80" y2="18.20" stroke="#111" stroke-width="1.3"/>
<text x="33.20" y="20.65" font-size="6.90" font-weight="bold" text-anchor="end" transform="rotate(0.06 33.20 20.65)">8</text>
<line x1="65.30" y1="132.80" x2="65.30" y2="135.60" stroke="#111" stroke-width="1.3"/>
<text x="64.00" y="145.50" font-size="7.10" font-weight="bold" text-anchor="middle" textLength="9.60" lengthAdjust="spacingAndGlyphs" transform="rotate(0.06 64.00 145.50)">−2</text>
<line x1="136.80" y1="132.80" x2="136.80" y2="135.60" stroke="#111" stroke-width="1.3"/>
<line x1="175.20" y1="132.80" x2="175.20" y2="135.60" stroke="#111" stroke-width="1.3"/>
<text x="175.20" y="145.50" font-size="7.10" font-weight="bold" text-anchor="middle" transform="rotate(0.06 175.20 145.50)">0</text>
<line x1="203.20" y1="132.80" x2="203.20" y2="135.60" stroke="#111" stroke-width="1.3"/>
<line x1="285.50" y1="132.80" x2="285.50" y2="135.60" stroke="#111" stroke-width="1.3"/>
<text x="285.80" y="145.50" font-size="7.10" font-weight="bold" text-anchor="middle" transform="rotate(0.06 285.80 145.50)">2</text>
<text x="25.30" y="76.00" font-size="8.60" font-weight="bold" text-anchor="middle" textLength="76.80" lengthAdjust="spacingAndGlyphs" transform="rotate(-90 25.30 76.00)">-Log 10 (P value)</text>
<text x="119.00" y="156.40" font-size="8.80" font-weight="bold" textLength="85.00" lengthAdjust="spacingAndGlyphs" transform="rotate(0.06 119.00 156.40)">Log 2 (fold change)</text>
<text x="131.90" y="9.80" font-size="9.20" font-weight="bold" textLength="74.40" lengthAdjust="spacingAndGlyphs" transform="rotate(0.06 131.90 9.80)">Sham vs Control</text>
<circle cx="43.8" cy="11.1" r="3.2" fill="#f20000"/>
<text x="47.40" y="13.70" font-size="6.50" stroke="#111" stroke-width="0.2" font-weight="bold" fill="#111" textLength="54.80" lengthAdjust="spacingAndGlyphs" transform="rotate(0.06 47.40 13.70)">Downregulated</text>
<text x="69.30" y="22.90" font-size="6.50" stroke="#111" stroke-width="0.2" font-weight="bold" fill="#111" textLength="16.20" lengthAdjust="spacingAndGlyphs" transform="rotate(0.06 69.30 22.90)">(48 )</text>
<circle cx="236.5" cy="12.1" r="3.2" fill="#0b870b"/>
<text x="240.00" y="14.40" font-size="6.70" stroke="#111" stroke-width="0.2" font-weight="bold" fill="#111" textLength="44.20" lengthAdjust="spacingAndGlyphs" transform="rotate(0.06 240.00 14.40)">Upregulated</text>
<text x="257.50" y="23.50" font-size="6.70" stroke="#111" stroke-width="0.2" font-weight="bold" fill="#111" textLength="13.10" lengthAdjust="spacingAndGlyphs" transform="rotate(0.06 257.50 23.50)">(50)</text>
<text x="263.80" y="119.60" font-size="5.60" stroke="#1e1ee0" stroke-width="0.15" font-weight="bold" fill="#1e1ee0" textLength="19.20" lengthAdjust="spacingAndGlyphs" transform="rotate(0.06 263.80 119.60)">p=0.05</text>
<text x="287.60" y="14.60" font-size="14.00" font-weight="bold" textLength="19.70" lengthAdjust="spacingAndGlyphs" transform="rotate(0.06 287.60 14.60)">(B)</text>
<rect x="446.9" y="9.60" width="77.90" height="3.4" fill="#00ad4c"/>
<text x="444.20" y="12.90" font-size="5.50" fill="#262626" text-anchor="end" textLength="124.90" lengthAdjust="spacingAndGlyphs" transform="rotate(0.06 444.20 12.90)">Intracellular cGMP-activated cation channel activity</text>
<rect x="446.9" y="14.38" width="70.00" height="3.4" fill="#00ad4c"/>
<text x="444.20" y="17.68" font-size="5.50" fill="#262626" text-anchor="end" textLength="78.40" lengthAdjust="spacingAndGlyphs" transform="rotate(0.06 444.20 17.68)">Cellular response to calcium ion</text>
<rect x="446.9" y="19.16" width="42.20" height="3.4" fill="#00ad4c"/>
<text x="444.20" y="22.46" font-size="5.50" fill="#262626" text-anchor="end" textLength="103.00" lengthAdjust="spacingAndGlyphs" transform="rotate(0.06 444.20 22.46)">Positive regulation of mitochondrial fission</text>
<rect x="446.9" y="23.94" width="37.00" height="3.4" fill="#00ad4c"/>
<text x="444.20" y="27.24" font-size="5.50" fill="#262626" text-anchor="end" textLength="130.00" lengthAdjust="spacingAndGlyphs" transform="rotate(0.06 444.20 27.24)">Energy derivation by oxidation of organic compounds</text>
<rect x="446.9" y="28.72" width="33.50" height="3.4" fill="#00ad4c"/>
<text x="444.20" y="32.02" font-size="5.50" fill="#262626" text-anchor="end" textLength="37.50" lengthAdjust="spacingAndGlyphs" transform="rotate(0.06 444.20 32.02)">Protein binding</text>
<rect x="446.9" y="33.50" width="26.60" height="3.4" fill="#00ad4c"/>
<text x="444.20" y="36.80" font-size="5.50" fill="#262626" text-anchor="end" textLength="60.20" lengthAdjust="spacingAndGlyphs" transform="rotate(0.06 444.20 36.80)">Response to calcium ion</text>
<rect x="446.9" y="38.28" width="24.20" height="3.4" fill="#00ad4c"/>
<text x="444.20" y="41.58" font-size="5.50" fill="#262626" text-anchor="end" textLength="69.70" lengthAdjust="spacingAndGlyphs" transform="rotate(0.06 444.20 41.58)">Glycogen metabolic process</text>
<rect x="446.9" y="43.06" width="22.20" height="3.4" fill="#00ad4c"/>
<text x="444.20" y="46.36" font-size="5.50" fill="#262626" text-anchor="end" textLength="61.50" lengthAdjust="spacingAndGlyphs" transform="rotate(0.06 444.20 46.36)">Insulin signaling pathway</text>
<rect x="446.9" y="47.84" width="21.70" height="3.4" fill="#00ad4c"/>
<text x="444.20" y="51.14" font-size="5.50" fill="#262626" text-anchor="end" textLength="69.70" lengthAdjust="spacingAndGlyphs" transform="rotate(0.06 444.20 51.14)">Glucagon signaling pathway</text>
<rect x="446.9" y="52.62" width="19.30" height="3.4" fill="#00ad4c"/>
<text x="444.20" y="55.92" font-size="5.50" fill="#262626" text-anchor="end" textLength="65.70" lengthAdjust="spacingAndGlyphs" transform="rotate(0.06 444.20 55.92)">Calcium signaling pathway</text>
<rect x="381.80" y="57.50" width="65.00" height="3.6" fill="#ec0a0f"/>
<text x="450.10" y="61.00" font-size="5.50" fill="#262626" textLength="33.24" lengthAdjust="spacingAndGlyphs" transform="rotate(0.06 450.10 61.00)">Ion transport</text>
<rect x="392.40" y="62.29" width="54.40" height="3.6" fill="#ec0a0f"/>
<text x="450.10" y="65.79" font-size="5.50" fill="#262626" textLength="76.60" lengthAdjust="spacingAndGlyphs" transform="rotate(0.06 450.10 65.79)">Regulation of apoptotic process</text>
<rect x="397.00" y="67.08" width="49.80" height="3.6" fill="#ec0a0f"/>
<text x="450.10" y="70.58" font-size="5.50" fill="#262626" textLength="64.60" lengthAdjust="spacingAndGlyphs" transform="rotate(0.06 450.10 70.58)">Regulation of ion transport</text>
<rect x="410.90" y="71.87" width="35.90" height="3.6" fill="#ec0a0f"/>
<text x="450.10" y="75.37" font-size="5.50" fill="#262626" textLength="50.70" lengthAdjust="spacingAndGlyphs" transform="rotate(0.06 450.10 75.37)">Neuron development</text>
<rect x="411.20" y="76.66" width="35.60" height="3.6" fill="#ec0a0f"/>
<text x="450.10" y="80.16" font-size="5.50" fill="#262626" textLength="39.50" lengthAdjust="spacingAndGlyphs" transform="rotate(0.06 450.10 80.16)">Axon regeneration</text>
<rect x="413.40" y="81.45" width="33.40" height="3.6" fill="#ec0a0f"/>
<text x="450.10" y="84.95" font-size="5.50" fill="#262626" textLength="95.60" lengthAdjust="spacingAndGlyphs" transform="rotate(0.06 450.10 84.95)">Mitochondrial transmembrane transport</text>
<rect x="418.30" y="86.24" width="28.50" height="3.6" fill="#ec0a0f"/>
<text x="450.10" y="89.74" font-size="5.50" fill="#262626" textLength="77.10" lengthAdjust="spacingAndGlyphs" transform="rotate(0.06 450.10 89.74)">Neurofilament bundle assembly</text>
<rect x="420.40" y="91.03" width="26.40" height="3.6" fill="#ec0a0f"/>
<text x="450.10" y="94.53" font-size="5.50" fill="#262626" textLength="57.20" lengthAdjust="spacingAndGlyphs" transform="rotate(0.06 450.10 94.53)">Cholesterol metabolism</text>
<rect x="420.50" y="95.82" width="26.30" height="3.6" fill="#ec0a0f"/>
<text x="450.10" y="99.32" font-size="5.50" fill="#262626" textLength="73.90" lengthAdjust="spacingAndGlyphs" transform="rotate(0.06 450.10 99.32)">cGMP-PKG signaling pathway</text>
<rect x="420.80" y="100.61" width="26.00" height="3.6" fill="#ec0a0f"/>
<text x="450.10" y="104.11" font-size="5.50" fill="#262626" textLength="63.10" lengthAdjust="spacingAndGlyphs" transform="rotate(0.06 450.10 104.11)">Oxidative phosphorylation</text>
<rect x="424.20" y="105.40" width="22.60" height="3.6" fill="#ec0a0f"/>
<text x="450.10" y="108.90" font-size="5.50" fill="#262626" textLength="61.40" lengthAdjust="spacingAndGlyphs" transform="rotate(0.06 450.10 108.90)">mTOR signaling pathway</text>
<rect x="426.20" y="110.19" width="20.60" height="3.6" fill="#ec0a0f"/>
<text x="450.10" y="113.69" font-size="5.50" fill="#262626" textLength="32.70" lengthAdjust="spacingAndGlyphs" transform="rotate(0.06 450.10 113.69)">Tight junction</text>
<rect x="426.20" y="114.98" width="20.60" height="3.6" fill="#ec0a0f"/>
<text x="450.10" y="118.48" font-size="5.50" fill="#262626" textLength="30.70" lengthAdjust="spacingAndGlyphs" transform="rotate(0.06 450.10 118.48)">Ferroptosis</text>
<rect x="426.20" y="119.77" width="20.60" height="3.6" fill="#ec0a0f"/>
<text x="450.10" y="123.27" font-size="5.50" fill="#262626" textLength="94.30" lengthAdjust="spacingAndGlyphs" transform="rotate(0.06 450.10 123.27)">Ion transmembrane transporter activity</text>
<rect x="426.70" y="124.56" width="20.10" height="3.6" fill="#ec0a0f"/>
<text x="450.10" y="128.06" font-size="5.50" fill="#262626" textLength="46.90" lengthAdjust="spacingAndGlyphs" transform="rotate(0.06 450.10 128.06)">Transporter activity</text>
<text x="447.00" y="7.90" font-size="5.80" stroke="#138a1e" stroke-width="0.28" fill="#138a1e" textLength="70.00" lengthAdjust="spacingAndGlyphs" transform="rotate(0.06 447.00 7.90)">Upregulated in SWATH-MS</text>
<text x="496.50" y="32.40" font-size="6.60" font-weight="bold" fill="#138a1e" text-anchor="middle" textLength="9.30" lengthAdjust="spacingAndGlyphs" transform="rotate(0.06 496.50 32.40)">ON</text>
<path d="M492.21 37.53 A8.1 8.1 0 1 0 500.79 37.53" fill="none" stroke="#138a1e" stroke-width="2.5" stroke-linecap="round"/>
<line x1="496.5" y1="34.80" x2="496.5" y2="43.30" stroke="#138a1e" stroke-width="2.5" stroke-linecap="round"/>
<text x="397.30" y="88.30" font-size="6.60" stroke="#ee2228" stroke-width="0.15" font-weight="bold" fill="#ee2228" text-anchor="middle" textLength="11.00" lengthAdjust="spacingAndGlyphs" transform="rotate(0.06 397.30 88.30)">OFF</text>
<path d="M393.01 94.93 A8.1 8.1 0 1 0 401.59 94.93" fill="none" stroke="#ee2228" stroke-width="2.5" stroke-linecap="round"/>
<line x1="397.3" y1="92.20" x2="397.3" y2="100.70" stroke="#ee2228" stroke-width="2.5" stroke-linecap="round"/>
<text x="368.20" y="133.10" font-size="5.80" stroke="#ec0a0f" stroke-width="0.28" fill="#ec0a0f" textLength="77.60" lengthAdjust="spacingAndGlyphs" transform="rotate(0.06 368.20 133.10)">Downregulated in SWATH-MS</text>
<line x1="358.50" y1="133.70" x2="534.60" y2="133.70" stroke="#666" stroke-width="0.7"/>
<line x1="358.70" y1="132.60" x2="358.70" y2="133.70" stroke="#666" stroke-width="0.7"/>
<text x="358.70" y="140.30" font-size="5.60" fill="#262626" text-anchor="middle" transform="rotate(0.06 358.70 140.30)">6</text>
<line x1="388.00" y1="132.60" x2="388.00" y2="133.70" stroke="#666" stroke-width="0.7"/>
<text x="388.00" y="140.30" font-size="5.60" fill="#262626" text-anchor="middle" transform="rotate(0.06 388.00 140.30)">4</text>
<line x1="417.30" y1="132.60" x2="417.30" y2="133.70" stroke="#666" stroke-width="0.7"/>
<text x="417.30" y="140.30" font-size="5.60" fill="#262626" text-anchor="middle" transform="rotate(0.06 417.30 140.30)">2</text>
<line x1="446.60" y1="132.60" x2="446.60" y2="133.70" stroke="#666" stroke-width="0.7"/>
<text x="446.60" y="140.30" font-size="5.60" fill="#262626" text-anchor="middle" transform="rotate(0.06 446.60 140.30)">0</text>
<line x1="475.90" y1="132.60" x2="475.90" y2="133.70" stroke="#666" stroke-width="0.7"/>
<text x="475.90" y="140.30" font-size="5.60" fill="#262626" text-anchor="middle" transform="rotate(0.06 475.90 140.30)">2</text>
<line x1="505.20" y1="132.60" x2="505.20" y2="133.70" stroke="#666" stroke-width="0.7"/>
<text x="505.20" y="140.30" font-size="5.60" fill="#262626" text-anchor="middle" transform="rotate(0.06 505.20 140.30)">4</text>
<line x1="534.50" y1="132.60" x2="534.50" y2="133.70" stroke="#666" stroke-width="0.7"/>
<text x="534.50" y="140.30" font-size="5.60" fill="#262626" text-anchor="middle" transform="rotate(0.06 534.50 140.30)">6</text>
<text x="406.90" y="147.60" font-size="7.00" fill="#262626" textLength="80.00" lengthAdjust="spacingAndGlyphs" transform="rotate(0.06 406.90 147.60)">Enrichment score (-log10(p))</text>
<line x1="40.10" y1="167.20" x2="545.90" y2="167.20" stroke="#222" stroke-width="1.2"/>
<line x1="25.90" y1="185.40" x2="545.90" y2="185.40" stroke="#222" stroke-width="1.2"/>
<line x1="25.90" y1="332.30" x2="545.90" y2="332.30" stroke="#222" stroke-width="1.2"/>
<line x1="25.90" y1="470.60" x2="545.90" y2="470.60" stroke="#222" stroke-width="1.2"/>
<line x1="26.50" y1="184.80" x2="26.50" y2="471.20" stroke="#222" stroke-width="1.2"/>
<line x1="40.70" y1="166.60" x2="40.70" y2="471.20" stroke="#222" stroke-width="1.2"/>
<line x1="287.70" y1="166.60" x2="287.70" y2="471.20" stroke="#222" stroke-width="1.2"/>
<line x1="545.30" y1="166.60" x2="545.30" y2="471.20" stroke="#222" stroke-width="1.2"/>
<text x="108.90" y="181.50" font-size="12.60" font-weight="bold" textLength="120.90" lengthAdjust="spacingAndGlyphs" transform="rotate(0.06 108.90 181.50)">LOW EXPRESSION</text>
<text x="356.00" y="181.20" font-size="12.60" font-weight="bold" textLength="124.20" lengthAdjust="spacingAndGlyphs" transform="rotate(0.06 356.00 181.20)">HIGH EXPRESSION</text>
<text x="39.40" y="305.00" font-size="13.00" font-weight="bold" fill="#13891e" textLength="99.70" lengthAdjust="spacingAndGlyphs" transform="rotate(-90 39.40 305.00)">UPREGULATED</text>
<text x="39.40" y="462.00" font-size="13.00" font-weight="bold" fill="#ee0a0f" textLength="122.90" lengthAdjust="spacingAndGlyphs" transform="rotate(-90 39.40 462.00)">DOWNREGULATED</text>
<text x="2.60" y="199.70" font-size="14.20" font-weight="bold" textLength="20.90" lengthAdjust="spacingAndGlyphs" transform="rotate(0.06 2.60 199.70)">(C)</text>
<text x="2.60" y="347.20" font-size="14.20" font-weight="bold" textLength="19.80" lengthAdjust="spacingAndGlyphs" transform="rotate(0.06 2.60 347.20)">(D)</text>
<line x1="97.50" y1="213.50" x2="97.50" y2="299.80" stroke="#151515" stroke-width="1.2"/>
<line x1="94.20" y1="299.20" x2="225.30" y2="299.20" stroke="#151515" stroke-width="1.3"/>
<line x1="94.30" y1="214.30" x2="97.50" y2="214.30" stroke="#151515" stroke-width="1.1"/>
<text x="91.20" y="216.60" font-size="6.00" stroke="#111" stroke-width="0.25" font-weight="bold" fill="#111" text-anchor="end" textLength="20.00" lengthAdjust="spacingAndGlyphs" transform="rotate(0.06 91.20 216.60)">1.5×10</text>
<text x="91.45" y="214.32" font-size="3.00" font-weight="bold" fill="#111" transform="rotate(0.06 91.45 214.32)">4</text>
<line x1="94.30" y1="242.60" x2="97.50" y2="242.60" stroke="#151515" stroke-width="1.1"/>
<text x="91.20" y="244.90" font-size="6.00" stroke="#111" stroke-width="0.25" font-weight="bold" fill="#111" text-anchor="end" textLength="14.60" lengthAdjust="spacingAndGlyphs" transform="rotate(0.06 91.20 244.90)">1×10</text>
<text x="91.45" y="242.62" font-size="3.00" font-weight="bold" fill="#111" transform="rotate(0.06 91.45 242.62)">4</text>
<line x1="94.30" y1="270.90" x2="97.50" y2="270.90" stroke="#151515" stroke-width="1.1"/>
<text x="91.20" y="273.20" font-size="6.00" stroke="#111" stroke-width="0.25" font-weight="bold" fill="#111" text-anchor="end" textLength="14.60" lengthAdjust="spacingAndGlyphs" transform="rotate(0.06 91.20 273.20)">5×10</text>
<text x="91.45" y="270.92" font-size="3.00" font-weight="bold" fill="#111" transform="rotate(0.06 91.45 270.92)">3</text>
<text x="92.40" y="301.50" font-size="6.00" stroke="#111" stroke-width="0.25" font-weight="bold" fill="#111" text-anchor="end" textLength="3.60" lengthAdjust="spacingAndGlyphs" transform="rotate(0.06 92.40 301.50)">0</text>
<text x="64.20" y="256.70" font-size="6.00" stroke="#111" stroke-width="0.2" font-weight="bold" fill="#111" text-anchor="middle" textLength="69.80" lengthAdjust="spacingAndGlyphs" transform="rotate(-90 64.20 256.70)">Swath normalized areas</text>
<path d="M103.70 299.20 V277.30 H113.60 V299.20" fill="none" stroke="#2a2a2a" stroke-width="1.15"/>
<path d="M108.65 277.30 V273.50 M106.18 273.50 H111.12" fill="none" stroke="#2a2a2a" stroke-width="1.15"/>
<path d="M120.40 299.20 V259.30 H130.50 V299.20" fill="none" stroke="#2f9a34" stroke-width="1.15"/>
<path d="M125.45 259.30 V255.70 M122.93 255.70 H127.97" fill="none" stroke="#2f9a34" stroke-width="1.15"/>
<path d="M147.80 299.20 V268.30 H158.00 V299.20" fill="none" stroke="#2a2a2a" stroke-width="1.15"/>
<path d="M152.90 268.30 V258.90 M150.35 258.90 H155.45" fill="none" stroke="#2a2a2a" stroke-width="1.15"/>
<path d="M164.20 299.20 V243.20 H174.50 V299.20" fill="none" stroke="#2f9a34" stroke-width="1.15"/>
<path d="M169.35 243.20 V235.30 M166.77 235.30 H171.93" fill="none" stroke="#2f9a34" stroke-width="1.15"/>
<path d="M191.90 299.20 V269.40 H202.30 V299.20" fill="none" stroke="#2a2a2a" stroke-width="1.15"/>
<path d="M197.10 269.40 V266.50 M194.50 266.50 H199.70" fill="none" stroke="#2a2a2a" stroke-width="1.15"/>
<path d="M208.40 299.20 V240.40 H218.60 V299.20" fill="none" stroke="#2f9a34" stroke-width="1.15"/>
<path d="M213.50 240.40 V234.90 M210.95 234.90 H216.05" fill="none" stroke="#2f9a34" stroke-width="1.15"/>
<line x1="116.60" y1="299.20" x2="116.60" y2="302.40" stroke="#151515" stroke-width="1.1"/>
<line x1="161.00" y1="299.20" x2="161.00" y2="302.40" stroke="#151515" stroke-width="1.1"/>
<line x1="205.30" y1="299.20" x2="205.30" y2="302.40" stroke="#151515" stroke-width="1.1"/>
<path d="M152.7 232.3 V229 H169.9 V232.3" fill="none" stroke="#4a4a4a" stroke-width="0.7"/>
<text x="161.00" y="229.60" font-size="4.80" font-weight="bold" text-anchor="middle" transform="rotate(0.06 161.00 229.60)">*</text>
<path d="M197.2 232.3 V229 H213.8 V232.3" fill="none" stroke="#4a4a4a" stroke-width="0.7"/>
<text x="205.50" y="229.60" font-size="4.80" font-weight="bold" text-anchor="middle" textLength="4.60" lengthAdjust="spacingAndGlyphs" transform="rotate(0.06 205.50 229.60)">**</text>
<text x="119.00" y="308.90" font-size="6.30" stroke="#111" stroke-width="0.25" font-weight="bold" fill="#111" text-anchor="end" textLength="21.00" lengthAdjust="spacingAndGlyphs" transform="rotate(-45 119.00 308.90)">GLRX3</text>
<text x="163.40" y="308.90" font-size="6.30" stroke="#111" stroke-width="0.25" font-weight="bold" fill="#111" text-anchor="end" textLength="21.70" lengthAdjust="spacingAndGlyphs" transform="rotate(-45 163.40 308.90)">KCC2D</text>
<text x="207.70" y="308.90" font-size="6.30" stroke="#111" stroke-width="0.25" font-weight="bold" fill="#111" text-anchor="end" textLength="18.20" lengthAdjust="spacingAndGlyphs" transform="rotate(-45 207.70 308.90)">NEUG</text>
<path d="M342.8 205.3 V251.5 M340.4 251.5 H345.1 M340.4 253.1 H345.1 M342.8 253.1 V299.5" stroke="#151515" stroke-width="1.2" fill="none"/>
<line x1="339.20" y1="298.80" x2="483.00" y2="298.80" stroke="#151515" stroke-width="1.3"/>
<line x1="339.20" y1="205.90" x2="342.80" y2="205.90" stroke="#151515" stroke-width="1.1"/>
<text x="335.70" y="208.20" font-size="6.10" stroke="#111" stroke-width="0.25" font-weight="bold" fill="#111" text-anchor="end" textLength="22.22" lengthAdjust="spacingAndGlyphs" transform="rotate(0.06 335.70 208.20)">1.5×10</text>
<text x="335.95" y="205.88" font-size="3.00" font-weight="bold" fill="#111" transform="rotate(0.06 335.95 205.88)">6</text>
<line x1="339.20" y1="221.10" x2="342.80" y2="221.10" stroke="#151515" stroke-width="1.1"/>
<text x="335.70" y="223.40" font-size="6.10" stroke="#111" stroke-width="0.25" font-weight="bold" fill="#111" text-anchor="end" textLength="16.21" lengthAdjust="spacingAndGlyphs" transform="rotate(0.06 335.70 223.40)">1×10</text>
<text x="335.95" y="221.08" font-size="3.00" font-weight="bold" fill="#111" transform="rotate(0.06 335.95 221.08)">6</text>
<line x1="339.20" y1="236.20" x2="342.80" y2="236.20" stroke="#151515" stroke-width="1.1"/>
<text x="335.70" y="238.50" font-size="6.10" stroke="#111" stroke-width="0.25" font-weight="bold" fill="#111" text-anchor="end" textLength="16.21" lengthAdjust="spacingAndGlyphs" transform="rotate(0.06 335.70 238.50)">5×10</text>
<text x="335.95" y="236.18" font-size="3.00" font-weight="bold" fill="#111" transform="rotate(0.06 335.95 236.18)">5</text>
<text x="335.70" y="255.60" font-size="6.10" stroke="#111" stroke-width="0.25" font-weight="bold" fill="#111" text-anchor="end" textLength="16.21" lengthAdjust="spacingAndGlyphs" transform="rotate(0.06 335.70 255.60)">1×10</text>
<text x="335.95" y="253.28" font-size="3.00" font-weight="bold" fill="#111" transform="rotate(0.06 335.95 253.28)">4</text>
<line x1="339.20" y1="262.30" x2="342.80" y2="262.30" stroke="#151515" stroke-width="1.1"/>
<text x="335.70" y="264.60" font-size="6.10" stroke="#111" stroke-width="0.25" font-weight="bold" fill="#111" text-anchor="end" textLength="16.21" lengthAdjust="spacingAndGlyphs" transform="rotate(0.06 335.70 264.60)">8×10</text>
<text x="335.95" y="262.28" font-size="3.00" font-weight="bold" fill="#111" transform="rotate(0.06 335.95 262.28)">3</text>
<line x1="339.20" y1="271.40" x2="342.80" y2="271.40" stroke="#151515" stroke-width="1.1"/>
<text x="335.70" y="273.70" font-size="6.10" stroke="#111" stroke-width="0.25" font-weight="bold" fill="#111" text-anchor="end" textLength="16.21" lengthAdjust="spacingAndGlyphs" transform="rotate(0.06 335.70 273.70)">6×10</text>
<text x="335.95" y="271.38" font-size="3.00" font-weight="bold" fill="#111" transform="rotate(0.06 335.95 271.38)">3</text>
<line x1="339.20" y1="280.60" x2="342.80" y2="280.60" stroke="#151515" stroke-width="1.1"/>
<text x="335.70" y="282.90" font-size="6.10" stroke="#111" stroke-width="0.25" font-weight="bold" fill="#111" text-anchor="end" textLength="16.21" lengthAdjust="spacingAndGlyphs" transform="rotate(0.06 335.70 282.90)">4×10</text>
<text x="335.95" y="280.58" font-size="3.00" font-weight="bold" fill="#111" transform="rotate(0.06 335.95 280.58)">3</text>
<line x1="339.20" y1="289.70" x2="342.80" y2="289.70" stroke="#151515" stroke-width="1.1"/>
<text x="335.70" y="292.00" font-size="6.10" stroke="#111" stroke-width="0.25" font-weight="bold" fill="#111" text-anchor="end" textLength="16.21" lengthAdjust="spacingAndGlyphs" transform="rotate(0.06 335.70 292.00)">2×10</text>
<text x="335.95" y="289.68" font-size="3.00" font-weight="bold" fill="#111" transform="rotate(0.06 335.95 289.68)">3</text>
<text x="337.60" y="301.10" font-size="6.10" stroke="#111" stroke-width="0.25" font-weight="bold" fill="#111" text-anchor="end" textLength="4.00" lengthAdjust="spacingAndGlyphs" transform="rotate(0.06 337.60 301.10)">0</text>
<text x="305.40" y="252.50" font-size="6.60" stroke="#111" stroke-width="0.2" font-weight="bold" fill="#111" text-anchor="middle" textLength="75.30" lengthAdjust="spacingAndGlyphs" transform="rotate(-90 305.40 252.50)">Swath normalized areas</text>
<path d="M352.10 298.80 V279.10 H370.70 V298.80" fill="none" stroke="#2a2a2a" stroke-width="1.15"/>
<path d="M361.40 279.10 V269.20 M356.75 269.20 H366.05" fill="none" stroke="#2a2a2a" stroke-width="1.15"/>
<path d="M380.40 298.80 V253.80 M380.40 251.30 V224.70 H398.40 V251.30 M398.40 253.80 V298.80" fill="none" stroke="#2f9a34" stroke-width="1.15"/>
<path d="M389.40 224.70 V215.60 M384.90 215.60 H393.90" fill="none" stroke="#2f9a34" stroke-width="1.15"/>
<path d="M427.00 298.80 V253.90 M427.00 251.50 V250.50 H445.80 V251.50 M445.80 253.90 V298.80" fill="none" stroke="#2a2a2a" stroke-width="1.15"/>
<path d="M436.40 250.50 V248.10 M431.70 248.10 H441.10" fill="none" stroke="#2a2a2a" stroke-width="1.15"/>
<path d="M454.90 298.80 V253.60 M454.90 250.60 V248.10 H473.10 V250.60 M473.10 253.60 V298.80" fill="none" stroke="#2f9a34" stroke-width="1.15"/>
<path d="M464.00 248.10 V245.50 M459.45 245.50 H468.55" fill="none" stroke="#2f9a34" stroke-width="1.15"/>
<line x1="375.30" y1="298.80" x2="375.30" y2="302.60" stroke="#151515" stroke-width="1.1"/>
<line x1="450.40" y1="298.80" x2="450.40" y2="302.60" stroke="#151515" stroke-width="1.1"/>
<path d="M361.2 211.1 V208.2 H389.6 V211.1" fill="none" stroke="#4a4a4a" stroke-width="0.8"/>
<text x="376.10" y="209.60" font-size="5.40" font-weight="bold" text-anchor="middle" textLength="9.20" lengthAdjust="spacingAndGlyphs" transform="rotate(0.06 376.10 209.60)">***</text>
<text x="377.60" y="310.80" font-size="6.90" stroke="#111" stroke-width="0.25" font-weight="bold" fill="#111" text-anchor="end" textLength="18.02" lengthAdjust="spacingAndGlyphs" transform="rotate(-45 377.60 310.80)">TBB3</text>
<text x="452.80" y="310.80" font-size="6.90" stroke="#111" stroke-width="0.25" font-weight="bold" fill="#111" text-anchor="end" textLength="21.34" lengthAdjust="spacingAndGlyphs" transform="rotate(-45 452.80 310.80)">AT1B2</text>
<rect x="467.4" y="215.5" width="9.2" height="4.9" fill="none" stroke="#222" stroke-width="1.15"/>
<rect x="467.4" y="224.4" width="9.2" height="4.9" fill="none" stroke="#2f9a34" stroke-width="1.15"/>
<text x="482.90" y="220.70" font-size="8.80" stroke="#111" stroke-width="0.15" font-weight="bold" fill="#111" textLength="55.60" lengthAdjust="spacingAndGlyphs" transform="rotate(0.06 482.90 220.70)">Control (n=6)</text>
<text x="482.90" y="229.70" font-size="8.80" stroke="#111" stroke-width="0.15" font-weight="bold" fill="#111" textLength="48.20" lengthAdjust="spacingAndGlyphs" transform="rotate(0.06 482.90 229.70)">Sham (n=6)</text>
<path d="M92.8 354.4 V390.6 M91.4 390.6 H94.4 M91.4 396.4 H94.4 M92.8 396.4 V432.6" stroke="#151515" stroke-width="1.3" fill="none"/>
<line x1="89.40" y1="432.00" x2="265.10" y2="432.00" stroke="#151515" stroke-width="1.35"/>
<line x1="90.30" y1="355.30" x2="92.80" y2="355.30" stroke="#151515" stroke-width="1.1"/>
<text x="88.40" y="357.20" font-size="4.80" stroke="#111" stroke-width="0.32" font-weight="bold" fill="#111" text-anchor="end" textLength="18.96" lengthAdjust="spacingAndGlyphs" transform="rotate(0.06 88.40 357.20)">1.2×10</text>
<text x="88.65" y="355.38" font-size="2.50" font-weight="bold" fill="#111" transform="rotate(0.06 88.65 355.38)">5</text>
<line x1="90.30" y1="371.30" x2="92.80" y2="371.30" stroke="#151515" stroke-width="1.1"/>
<text x="88.40" y="373.20" font-size="4.80" stroke="#111" stroke-width="0.32" font-weight="bold" fill="#111" text-anchor="end" textLength="13.84" lengthAdjust="spacingAndGlyphs" transform="rotate(0.06 88.40 373.20)">1×10</text>
<text x="88.65" y="371.38" font-size="2.50" font-weight="bold" fill="#111" transform="rotate(0.06 88.65 371.38)">5</text>
<line x1="90.30" y1="387.10" x2="92.80" y2="387.10" stroke="#151515" stroke-width="1.1"/>
<text x="88.40" y="389.00" font-size="4.80" stroke="#111" stroke-width="0.32" font-weight="bold" fill="#111" text-anchor="end" textLength="13.84" lengthAdjust="spacingAndGlyphs" transform="rotate(0.06 88.40 389.00)">8×10</text>
<text x="88.65" y="387.18" font-size="2.50" font-weight="bold" fill="#111" transform="rotate(0.06 88.65 387.18)">4</text>
<line x1="90.30" y1="406.20" x2="92.80" y2="406.20" stroke="#151515" stroke-width="1.1"/>
<text x="88.40" y="408.10" font-size="4.80" stroke="#111" stroke-width="0.32" font-weight="bold" fill="#111" text-anchor="end" textLength="13.84" lengthAdjust="spacingAndGlyphs" transform="rotate(0.06 88.40 408.10)">4×10</text>
<text x="88.65" y="406.28" font-size="2.50" font-weight="bold" fill="#111" transform="rotate(0.06 88.65 406.28)">4</text>
<line x1="90.30" y1="419.20" x2="92.80" y2="419.20" stroke="#151515" stroke-width="1.1"/>
<text x="88.40" y="421.10" font-size="4.80" stroke="#111" stroke-width="0.32" font-weight="bold" fill="#111" text-anchor="end" textLength="13.84" lengthAdjust="spacingAndGlyphs" transform="rotate(0.06 88.40 421.10)">2×10</text>
<text x="88.65" y="419.28" font-size="2.50" font-weight="bold" fill="#111" transform="rotate(0.06 88.65 419.28)">4</text>
<text x="88.80" y="433.90" font-size="4.80" stroke="#111" stroke-width="0.32" font-weight="bold" fill="#111" text-anchor="end" textLength="3.42" lengthAdjust="spacingAndGlyphs" transform="rotate(0.06 88.80 433.90)">0</text>
<text x="64.60" y="393.60" font-size="5.40" stroke="#111" stroke-width="0.22" font-weight="bold" fill="#111" text-anchor="middle" textLength="63.20" lengthAdjust="spacingAndGlyphs" transform="rotate(-90 64.60 393.60)">Swath normalized areas</text>
<path d="M95.50 432.00 V421.80 H99.50 V432.00" fill="none" stroke="#2a2a2a" stroke-width="1.05"/>
<path d="M97.50 421.80 V420.60 M96.30 420.60 H98.70" fill="none" stroke="#2a2a2a" stroke-width="1.05"/>
<path d="M102.30 432.00 V426.20 H106.90 V432.00" fill="none" stroke="#ee1c24" stroke-width="1.05"/>
<path d="M104.60 426.20 V424.20 M103.22 424.20 H105.98" fill="none" stroke="#ee1c24" stroke-width="1.05"/>
<line x1="101.10" y1="432.00" x2="101.10" y2="435.00" stroke="#151515" stroke-width="1.1"/>
<text x="103.00" y="441.20" font-size="5.50" stroke="#111" stroke-width="0.25" font-weight="bold" fill="#111" text-anchor="end" textLength="18.04" lengthAdjust="spacingAndGlyphs" transform="rotate(-45 103.00 441.20)">PRPS1</text>
<path d="M114.87 432.00 V427.20 H118.87 V432.00" fill="none" stroke="#2a2a2a" stroke-width="1.05"/>
<path d="M116.87 427.20 V426.20 M115.67 426.20 H118.07" fill="none" stroke="#2a2a2a" stroke-width="1.05"/>
<path d="M121.67 432.00 V428.80 H126.27 V432.00" fill="none" stroke="#ee1c24" stroke-width="1.05"/>
<path d="M123.97 428.80 V427.60 M122.59 427.60 H125.35" fill="none" stroke="#ee1c24" stroke-width="1.05"/>
<line x1="120.47" y1="432.00" x2="120.47" y2="435.00" stroke="#151515" stroke-width="1.1"/>
<text x="122.37" y="441.20" font-size="5.50" stroke="#111" stroke-width="0.25" font-weight="bold" fill="#111" text-anchor="end" textLength="13.75" lengthAdjust="spacingAndGlyphs" transform="rotate(-45 122.37 441.20)">ZNT3</text>
<path d="M134.24 432.00 V417.10 H138.24 V432.00" fill="none" stroke="#2a2a2a" stroke-width="1.05"/>
<path d="M136.24 417.10 V412.10 M135.04 412.10 H137.44" fill="none" stroke="#2a2a2a" stroke-width="1.05"/>
<path d="M141.04 432.00 V424.60 H145.64 V432.00" fill="none" stroke="#ee1c24" stroke-width="1.05"/>
<path d="M143.34 424.60 V421.60 M141.96 421.60 H144.72" fill="none" stroke="#ee1c24" stroke-width="1.05"/>
<line x1="139.84" y1="432.00" x2="139.84" y2="435.00" stroke="#151515" stroke-width="1.1"/>
<text x="141.74" y="441.20" font-size="5.50" stroke="#111" stroke-width="0.25" font-weight="bold" fill="#111" text-anchor="end" textLength="16.19" lengthAdjust="spacingAndGlyphs" transform="rotate(-45 141.74 441.20)">NUSM</text>
<path d="M153.61 432.00 V427.20 H157.61 V432.00" fill="none" stroke="#2a2a2a" stroke-width="1.05"/>
<path d="M155.61 427.20 V424.60 M154.41 424.60 H156.81" fill="none" stroke="#2a2a2a" stroke-width="1.05"/>
<path d="M160.41 432.00 V429.60 H165.01 V432.00" fill="none" stroke="#ee1c24" stroke-width="1.05"/>
<path d="M162.71 429.60 V428.80 M161.33 428.80 H164.09" fill="none" stroke="#ee1c24" stroke-width="1.05"/>
<line x1="159.21" y1="432.00" x2="159.21" y2="435.00" stroke="#151515" stroke-width="1.1"/>
<text x="161.11" y="441.20" font-size="5.50" stroke="#111" stroke-width="0.25" font-weight="bold" fill="#111" text-anchor="end" textLength="18.65" lengthAdjust="spacingAndGlyphs" transform="rotate(-45 161.11 441.20)">CSPG5</text>
<path d="M172.98 432.00 V424.20 H176.98 V432.00" fill="none" stroke="#2a2a2a" stroke-width="1.05"/>
<path d="M174.98 424.20 V420.20 M173.78 420.20 H176.18" fill="none" stroke="#2a2a2a" stroke-width="1.05"/>
<path d="M179.78 432.00 V427.60 H184.38 V432.00" fill="none" stroke="#ee1c24" stroke-width="1.05"/>
<path d="M182.08 427.60 V426.20 M180.70 426.20 H183.46" fill="none" stroke="#ee1c24" stroke-width="1.05"/>
<line x1="178.58" y1="432.00" x2="178.58" y2="435.00" stroke="#151515" stroke-width="1.1"/>
<text x="180.48" y="441.20" font-size="5.50" stroke="#111" stroke-width="0.25" font-weight="bold" fill="#111" text-anchor="end" textLength="14.67" lengthAdjust="spacingAndGlyphs" transform="rotate(-45 180.48 441.20)">ESTD</text>
<path d="M192.35 432.00 V424.20 H196.35 V432.00" fill="none" stroke="#2a2a2a" stroke-width="1.05"/>
<path d="M194.35 424.20 V420.60 M193.15 420.60 H195.55" fill="none" stroke="#2a2a2a" stroke-width="1.05"/>
<path d="M199.15 432.00 V426.80 H203.75 V432.00" fill="none" stroke="#ee1c24" stroke-width="1.05"/>
<path d="M201.45 426.80 V425.60 M200.07 425.60 H202.83" fill="none" stroke="#ee1c24" stroke-width="1.05"/>
<line x1="197.95" y1="432.00" x2="197.95" y2="435.00" stroke="#151515" stroke-width="1.1"/>
<text x="199.85" y="441.20" font-size="5.50" stroke="#111" stroke-width="0.25" font-weight="bold" fill="#111" text-anchor="end" textLength="9.47" lengthAdjust="spacingAndGlyphs" transform="rotate(-45 199.85 441.20)">MIF</text>
<path d="M211.72 432.00 V404.40 H215.72 V432.00" fill="none" stroke="#2a2a2a" stroke-width="1.05"/>
<path d="M213.72 404.40 V397.20 M212.52 397.20 H214.92" fill="none" stroke="#2a2a2a" stroke-width="1.05"/>
<path d="M218.52 432.00 V420.20 H223.12 V432.00" fill="none" stroke="#ee1c24" stroke-width="1.05"/>
<path d="M220.82 420.20 V416.10 M219.44 416.10 H222.20" fill="none" stroke="#ee1c24" stroke-width="1.05"/>
<line x1="217.32" y1="432.00" x2="217.32" y2="435.00" stroke="#151515" stroke-width="1.1"/>
<text x="219.22" y="441.20" font-size="5.50" stroke="#111" stroke-width="0.25" font-weight="bold" fill="#111" text-anchor="end" textLength="19.56" lengthAdjust="spacingAndGlyphs" transform="rotate(-45 219.22 441.20)">GPM6B</text>
<path d="M231.09 432.00 V396.50 M231.09 390.20 V382.00 H235.09 V390.20 M235.09 396.50 V432.00" fill="none" stroke="#2a2a2a" stroke-width="1.05"/>
<path d="M233.09 382.00 V370.60 M231.89 370.60 H234.29" fill="none" stroke="#2a2a2a" stroke-width="1.05"/>
<path d="M237.89 432.00 V410.00 H242.49 V432.00" fill="none" stroke="#ee1c24" stroke-width="1.05"/>
<path d="M240.19 410.00 V403.70 M238.81 403.70 H241.57" fill="none" stroke="#ee1c24" stroke-width="1.05"/>
<line x1="236.69" y1="432.00" x2="236.69" y2="435.00" stroke="#151515" stroke-width="1.1"/>
<text x="238.59" y="441.20" font-size="5.50" stroke="#111" stroke-width="0.25" font-weight="bold" fill="#111" text-anchor="end" textLength="14.36" lengthAdjust="spacingAndGlyphs" transform="rotate(-45 238.59 441.20)">ADT2</text>
<path d="M250.46 432.00 V411.70 H254.46 V432.00" fill="none" stroke="#2a2a2a" stroke-width="1.05"/>
<path d="M252.46 411.70 V399.30 M251.26 399.30 H253.66" fill="none" stroke="#2a2a2a" stroke-width="1.05"/>
<path d="M257.26 432.00 V427.20 H261.86 V432.00" fill="none" stroke="#ee1c24" stroke-width="1.05"/>
<path d="M259.56 427.20 V424.60 M258.18 424.60 H260.94" fill="none" stroke="#ee1c24" stroke-width="1.05"/>
<line x1="256.06" y1="432.00" x2="256.06" y2="435.00" stroke="#151515" stroke-width="1.1"/>
<text x="257.96" y="441.20" font-size="5.50" stroke="#111" stroke-width="0.25" font-weight="bold" fill="#111" text-anchor="end" textLength="17.73" lengthAdjust="spacingAndGlyphs" transform="rotate(-45 257.96 441.20)">FXYD7</text>
<path d="M213.6 394 V391.1 H221.1 V411.3" fill="none" stroke="#4a4a4a" stroke-width="0.6"/>
<text x="217.40" y="392.20" font-size="4.20" font-weight="bold" text-anchor="middle" textLength="5.80" lengthAdjust="spacingAndGlyphs" transform="rotate(0.06 217.40 392.20)">***</text>
<path d="M233.1 367.7 V363.9 H241.1 V396.8" fill="none" stroke="#4a4a4a" stroke-width="0.6"/>
<text x="237.10" y="365.00" font-size="4.20" font-weight="bold" text-anchor="middle" textLength="5.80" lengthAdjust="spacingAndGlyphs" transform="rotate(0.06 237.10 365.00)">***</text>
<path d="M252.1 396 V393.0 H259.7 V420" fill="none" stroke="#4a4a4a" stroke-width="0.6"/>
<text x="255.90" y="394.10" font-size="4.20" font-weight="bold" text-anchor="middle" textLength="5.80" lengthAdjust="spacingAndGlyphs" transform="rotate(0.06 255.90 394.10)">***</text>
<path d="M326.0 358.4 V394.5 M324.5 394.5 H327.8 M324.5 396.7 H327.8 M326.0 396.7 V432.4" stroke="#151515" stroke-width="1.3" fill="none"/>
<line x1="323.50" y1="431.80" x2="490.00" y2="431.80" stroke="#151515" stroke-width="1.35"/>
<line x1="323.80" y1="359.00" x2="326.00" y2="359.00" stroke="#151515" stroke-width="1.1"/>
<text x="321.90" y="360.80" font-size="4.70" stroke="#111" stroke-width="0.3" font-weight="bold" fill="#111" text-anchor="end" textLength="12.92" lengthAdjust="spacingAndGlyphs" transform="rotate(0.06 321.90 360.80)">1×10</text>
<text x="322.15" y="359.01" font-size="2.40" font-weight="bold" fill="#111" transform="rotate(0.06 322.15 359.01)">7</text>
<line x1="323.80" y1="368.60" x2="326.00" y2="368.60" stroke="#151515" stroke-width="1.1"/>
<text x="321.90" y="370.40" font-size="4.70" stroke="#111" stroke-width="0.3" font-weight="bold" fill="#111" text-anchor="end" textLength="12.92" lengthAdjust="spacingAndGlyphs" transform="rotate(0.06 321.90 370.40)">8×10</text>
<text x="322.15" y="368.61" font-size="2.40" font-weight="bold" fill="#111" transform="rotate(0.06 322.15 368.61)">6</text>
<line x1="323.80" y1="377.60" x2="326.00" y2="377.60" stroke="#151515" stroke-width="1.1"/>
<text x="321.90" y="379.40" font-size="4.70" stroke="#111" stroke-width="0.3" font-weight="bold" fill="#111" text-anchor="end" textLength="12.92" lengthAdjust="spacingAndGlyphs" transform="rotate(0.06 321.90 379.40)">6×10</text>
<text x="322.15" y="377.61" font-size="2.40" font-weight="bold" fill="#111" transform="rotate(0.06 322.15 377.61)">6</text>
<line x1="323.80" y1="386.60" x2="326.00" y2="386.60" stroke="#151515" stroke-width="1.1"/>
<text x="321.90" y="388.40" font-size="4.70" stroke="#111" stroke-width="0.3" font-weight="bold" fill="#111" text-anchor="end" textLength="12.92" lengthAdjust="spacingAndGlyphs" transform="rotate(0.06 321.90 388.40)">4×10</text>
<text x="322.15" y="386.61" font-size="2.40" font-weight="bold" fill="#111" transform="rotate(0.06 322.15 386.61)">6</text>
<text x="321.90" y="398.50" font-size="4.70" stroke="#111" stroke-width="0.3" font-weight="bold" fill="#111" text-anchor="end" textLength="12.92" lengthAdjust="spacingAndGlyphs" transform="rotate(0.06 321.90 398.50)">8×10</text>
<text x="322.15" y="396.71" font-size="2.40" font-weight="bold" fill="#111" transform="rotate(0.06 322.15 396.71)">5</text>
<line x1="323.80" y1="405.50" x2="326.00" y2="405.50" stroke="#151515" stroke-width="1.1"/>
<text x="321.90" y="407.30" font-size="4.70" stroke="#111" stroke-width="0.3" font-weight="bold" fill="#111" text-anchor="end" textLength="12.92" lengthAdjust="spacingAndGlyphs" transform="rotate(0.06 321.90 407.30)">6×10</text>
<text x="322.15" y="405.51" font-size="2.40" font-weight="bold" fill="#111" transform="rotate(0.06 322.15 405.51)">5</text>
<line x1="323.80" y1="414.30" x2="326.00" y2="414.30" stroke="#151515" stroke-width="1.1"/>
<text x="321.90" y="416.10" font-size="4.70" stroke="#111" stroke-width="0.3" font-weight="bold" fill="#111" text-anchor="end" textLength="12.92" lengthAdjust="spacingAndGlyphs" transform="rotate(0.06 321.90 416.10)">4×10</text>
<text x="322.15" y="414.31" font-size="2.40" font-weight="bold" fill="#111" transform="rotate(0.06 322.15 414.31)">5</text>
<line x1="323.80" y1="423.10" x2="326.00" y2="423.10" stroke="#151515" stroke-width="1.1"/>
<text x="321.90" y="424.90" font-size="4.70" stroke="#111" stroke-width="0.3" font-weight="bold" fill="#111" text-anchor="end" textLength="12.92" lengthAdjust="spacingAndGlyphs" transform="rotate(0.06 321.90 424.90)">2×10</text>
<text x="322.15" y="423.11" font-size="2.40" font-weight="bold" fill="#111" transform="rotate(0.06 322.15 423.11)">5</text>
<text x="323.00" y="433.60" font-size="4.70" stroke="#111" stroke-width="0.3" font-weight="bold" fill="#111" text-anchor="end" textLength="3.19" lengthAdjust="spacingAndGlyphs" transform="rotate(0.06 323.00 433.60)">0</text>
<text x="303.30" y="395.60" font-size="4.90" stroke="#111" stroke-width="0.1" font-weight="bold" fill="#111" text-anchor="middle" textLength="61.20" lengthAdjust="spacingAndGlyphs" transform="rotate(-90 303.30 395.60)">Swath normalized areas</text>
<path d="M327.60 431.80 V426.50 H330.20 V431.80" fill="none" stroke="#2a2a2a" stroke-width="0.95"/>
<path d="M328.90 426.50 V424.40 M328.12 424.40 H329.68" fill="none" stroke="#2a2a2a" stroke-width="0.95"/>
<path d="M332.30 431.80 V428.60 H335.20 V431.80" fill="none" stroke="#ee1c24" stroke-width="0.95"/>
<path d="M333.75 428.60 V427.40 M332.88 427.40 H334.62" fill="none" stroke="#ee1c24" stroke-width="0.95"/>
<line x1="331.40" y1="431.80" x2="331.40" y2="434.60" stroke="#151515" stroke-width="1.1"/>
<text x="332.10" y="440.80" font-size="5.10" stroke="#111" stroke-width="0.25" font-weight="bold" fill="#111" text-anchor="end" textLength="14.74" lengthAdjust="spacingAndGlyphs" transform="rotate(-45 332.10 440.80)">MPCP</text>
<path d="M340.30 431.80 V419.10 H342.90 V431.80" fill="none" stroke="#2a2a2a" stroke-width="0.95"/>
<path d="M341.60 419.10 V416.10 M340.82 416.10 H342.38" fill="none" stroke="#2a2a2a" stroke-width="0.95"/>
<path d="M345.00 431.80 V425.00 H347.90 V431.80" fill="none" stroke="#ee1c24" stroke-width="0.95"/>
<path d="M346.45 425.00 V423.20 M345.58 423.20 H347.32" fill="none" stroke="#ee1c24" stroke-width="0.95"/>
<line x1="344.10" y1="431.80" x2="344.10" y2="434.60" stroke="#151515" stroke-width="1.1"/>
<text x="344.80" y="440.80" font-size="5.10" stroke="#111" stroke-width="0.25" font-weight="bold" fill="#111" text-anchor="end" textLength="10.48" lengthAdjust="spacingAndGlyphs" transform="rotate(-45 344.80 440.80)">NFH</text>
<path d="M353.00 431.80 V423.20 H355.60 V431.80" fill="none" stroke="#2a2a2a" stroke-width="0.95"/>
<path d="M354.30 423.20 V420.20 M353.52 420.20 H355.08" fill="none" stroke="#2a2a2a" stroke-width="0.95"/>
<path d="M357.70 431.80 V426.80 H360.60 V431.80" fill="none" stroke="#ee1c24" stroke-width="0.95"/>
<path d="M359.15 426.80 V425.80 M358.28 425.80 H360.02" fill="none" stroke="#ee1c24" stroke-width="0.95"/>
<line x1="356.80" y1="431.80" x2="356.80" y2="434.60" stroke="#151515" stroke-width="1.1"/>
<text x="357.50" y="440.80" font-size="5.10" stroke="#111" stroke-width="0.25" font-weight="bold" fill="#111" text-anchor="end" textLength="17.29" lengthAdjust="spacingAndGlyphs" transform="rotate(-45 357.50 440.80)">VDAC2</text>
<path d="M365.70 431.80 V425.20 H368.30 V431.80" fill="none" stroke="#2a2a2a" stroke-width="0.95"/>
<path d="M367.00 425.20 V422.80 M366.22 422.80 H367.78" fill="none" stroke="#2a2a2a" stroke-width="0.95"/>
<path d="M370.40 431.80 V428.80 H373.30 V431.80" fill="none" stroke="#ee1c24" stroke-width="0.95"/>
<path d="M371.85 428.80 V427.60 M370.98 427.60 H372.72" fill="none" stroke="#ee1c24" stroke-width="0.95"/>
<line x1="369.50" y1="431.80" x2="369.50" y2="434.60" stroke="#151515" stroke-width="1.1"/>
<text x="370.20" y="440.80" font-size="5.10" stroke="#111" stroke-width="0.25" font-weight="bold" fill="#111" text-anchor="end" textLength="11.90" lengthAdjust="spacingAndGlyphs" transform="rotate(-45 370.20 440.80)">MDG</text>
<path d="M378.40 431.80 V429.20 H381.00 V431.80" fill="none" stroke="#2a2a2a" stroke-width="0.95"/>
<path d="M379.70 429.20 V428.20 M378.92 428.20 H380.48" fill="none" stroke="#2a2a2a" stroke-width="0.95"/>
<path d="M383.10 431.80 V430.20 H386.00 V431.80" fill="none" stroke="#ee1c24" stroke-width="0.95"/>
<line x1="382.20" y1="431.80" x2="382.20" y2="434.60" stroke="#151515" stroke-width="1.1"/>
<text x="382.90" y="440.80" font-size="5.10" stroke="#111" stroke-width="0.25" font-weight="bold" fill="#111" text-anchor="end" textLength="16.34" lengthAdjust="spacingAndGlyphs" transform="rotate(-45 382.90 440.80)">ATP5H</text>
<path d="M391.10 431.80 V425.20 H393.70 V431.80" fill="none" stroke="#2a2a2a" stroke-width="0.95"/>
<path d="M392.40 425.20 V423.20 M391.62 423.20 H393.18" fill="none" stroke="#2a2a2a" stroke-width="0.95"/>
<path d="M395.80 431.80 V428.80 H398.70 V431.80" fill="none" stroke="#ee1c24" stroke-width="0.95"/>
<path d="M397.25 428.80 V427.60 M396.38 427.60 H398.12" fill="none" stroke="#ee1c24" stroke-width="0.95"/>
<line x1="394.90" y1="431.80" x2="394.90" y2="434.60" stroke="#151515" stroke-width="1.1"/>
<text x="395.60" y="440.80" font-size="5.10" stroke="#111" stroke-width="0.25" font-weight="bold" fill="#111" text-anchor="end" textLength="17.29" lengthAdjust="spacingAndGlyphs" transform="rotate(-45 395.60 440.80)">VDAC1</text>
<path d="M403.80 431.80 V423.20 H406.40 V431.80" fill="none" stroke="#2a2a2a" stroke-width="0.95"/>
<path d="M405.10 423.20 V419.10 M404.32 419.10 H405.88" fill="none" stroke="#2a2a2a" stroke-width="0.95"/>
<path d="M408.50 431.80 V427.20 H411.40 V431.80" fill="none" stroke="#ee1c24" stroke-width="0.95"/>
<path d="M409.95 427.20 V425.60 M409.08 425.60 H410.82" fill="none" stroke="#ee1c24" stroke-width="0.95"/>
<line x1="407.60" y1="431.80" x2="407.60" y2="434.60" stroke="#151515" stroke-width="1.1"/>
<text x="408.30" y="440.80" font-size="5.10" stroke="#111" stroke-width="0.25" font-weight="bold" fill="#111" text-anchor="end" textLength="14.16" lengthAdjust="spacingAndGlyphs" transform="rotate(-45 408.30 440.80)">ALBU</text>
<path d="M416.50 431.80 V426.20 H419.10 V431.80" fill="none" stroke="#2a2a2a" stroke-width="0.95"/>
<path d="M417.80 426.20 V424.20 M417.02 424.20 H418.58" fill="none" stroke="#2a2a2a" stroke-width="0.95"/>
<path d="M421.20 431.80 V429.20 H424.10 V431.80" fill="none" stroke="#ee1c24" stroke-width="0.95"/>
<line x1="420.30" y1="431.80" x2="420.30" y2="434.60" stroke="#151515" stroke-width="1.1"/>
<text x="421.00" y="440.80" font-size="5.10" stroke="#111" stroke-width="0.25" font-weight="bold" fill="#111" text-anchor="end" textLength="15.30" lengthAdjust="spacingAndGlyphs" transform="rotate(-45 421.00 440.80)">M2OM</text>
<path d="M429.30 431.80 V397.00 M429.30 394.80 V377.40 H432.70 V394.80 M432.70 397.00 V431.80" fill="none" stroke="#2a2a2a" stroke-width="0.95"/>
<path d="M431.00 377.40 V366.90 M430.49 366.90 H431.51" fill="none" stroke="#2a2a2a" stroke-width="0.95"/>
<path d="M434.10 431.80 V397.00 M434.10 394.80 V390.60 H436.80 V394.80 M436.80 397.00 V431.80" fill="none" stroke="#ee1c24" stroke-width="0.95"/>
<path d="M435.45 390.60 V389.40 M434.64 389.40 H436.26" fill="none" stroke="#ee1c24" stroke-width="0.95"/>
<line x1="433.00" y1="431.80" x2="433.00" y2="434.60" stroke="#151515" stroke-width="1.1"/>
<text x="433.70" y="440.80" font-size="5.10" stroke="#111" stroke-width="0.25" font-weight="bold" fill="#111" text-anchor="end" textLength="14.74" lengthAdjust="spacingAndGlyphs" transform="rotate(-45 433.70 440.80)">MYPR</text>
<path d="M441.90 431.80 V426.20 H444.50 V431.80" fill="none" stroke="#2a2a2a" stroke-width="0.95"/>
<path d="M443.20 426.20 V422.20 M442.42 422.20 H443.98" fill="none" stroke="#2a2a2a" stroke-width="0.95"/>
<path d="M446.60 431.80 V429.20 H449.50 V431.80" fill="none" stroke="#ee1c24" stroke-width="0.95"/>
<line x1="445.70" y1="431.80" x2="445.70" y2="434.60" stroke="#151515" stroke-width="1.1"/>
<text x="446.40" y="440.80" font-size="5.10" stroke="#111" stroke-width="0.25" font-weight="bold" fill="#111" text-anchor="end" textLength="14.17" lengthAdjust="spacingAndGlyphs" transform="rotate(-45 446.40 440.80)">GBB1</text>
<path d="M454.60 431.80 V421.20 H457.20 V431.80" fill="none" stroke="#2a2a2a" stroke-width="0.95"/>
<path d="M455.90 421.20 V419.10 M455.12 419.10 H456.68" fill="none" stroke="#2a2a2a" stroke-width="0.95"/>
<path d="M459.30 431.80 V427.20 H462.20 V431.80" fill="none" stroke="#ee1c24" stroke-width="0.95"/>
<path d="M460.75 427.20 V426.20 M459.88 426.20 H461.62" fill="none" stroke="#ee1c24" stroke-width="0.95"/>
<line x1="458.40" y1="431.80" x2="458.40" y2="434.60" stroke="#151515" stroke-width="1.1"/>
<text x="459.10" y="440.80" font-size="5.10" stroke="#111" stroke-width="0.25" font-weight="bold" fill="#111" text-anchor="end" textLength="13.32" lengthAdjust="spacingAndGlyphs" transform="rotate(-45 459.10 440.80)">ADT1</text>
<path d="M467.30 431.80 V426.80 H469.90 V431.80" fill="none" stroke="#2a2a2a" stroke-width="0.95"/>
<path d="M468.60 426.80 V423.20 M467.82 423.20 H469.38" fill="none" stroke="#2a2a2a" stroke-width="0.95"/>
<path d="M472.00 431.80 V428.80 H474.90 V431.80" fill="none" stroke="#ee1c24" stroke-width="0.95"/>
<line x1="471.10" y1="431.80" x2="471.10" y2="434.60" stroke="#151515" stroke-width="1.1"/>
<text x="471.80" y="440.80" font-size="5.10" stroke="#111" stroke-width="0.25" font-weight="bold" fill="#111" text-anchor="end" textLength="13.89" lengthAdjust="spacingAndGlyphs" transform="rotate(-45 471.80 440.80)">HBB1</text>
<path d="M480.00 431.80 V415.10 H482.60 V431.80" fill="none" stroke="#2a2a2a" stroke-width="0.95"/>
<path d="M481.30 415.10 V401.10 M480.52 401.10 H482.08" fill="none" stroke="#2a2a2a" stroke-width="0.95"/>
<path d="M484.70 431.80 V425.20 H487.60 V431.80" fill="none" stroke="#ee1c24" stroke-width="0.95"/>
<path d="M486.15 425.20 V421.20 M485.28 421.20 H487.02" fill="none" stroke="#ee1c24" stroke-width="0.95"/>
<line x1="483.80" y1="431.80" x2="483.80" y2="434.60" stroke="#151515" stroke-width="1.1"/>
<text x="484.50" y="440.80" font-size="5.10" stroke="#111" stroke-width="0.25" font-weight="bold" fill="#111" text-anchor="end" textLength="11.05" lengthAdjust="spacingAndGlyphs" transform="rotate(-45 484.50 440.80)">HBA</text>
<path d="M430.9 364 V361.4 Q430.9 360.3 432 360.3 H434.8 Q435.9 360.3 435.9 361.4 V387" fill="none" stroke="#4a4a4a" stroke-width="0.7"/>
<rect x="469.6" y="355.2" width="6.9" height="6.1" fill="none" stroke="#222" stroke-width="1.15"/>
<rect x="469.6" y="364.5" width="6.9" height="6.1" fill="none" stroke="#ee1c24" stroke-width="1.15"/>
<text x="481.60" y="361.10" font-size="8.80" stroke="#111" stroke-width="0.15" font-weight="bold" fill="#111" textLength="56.10" lengthAdjust="spacingAndGlyphs" transform="rotate(0.06 481.60 361.10)">Control (n=6)</text>
<text x="481.60" y="370.60" font-size="8.80" stroke="#111" stroke-width="0.15" font-weight="bold" fill="#111" textLength="48.40" lengthAdjust="spacingAndGlyphs" transform="rotate(0.06 481.60 370.60)">Sham (n=6)</text>
</svg>
</body></html>
